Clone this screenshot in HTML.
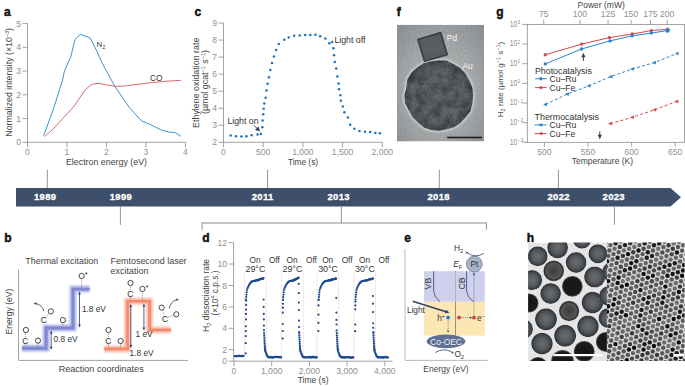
<!DOCTYPE html>
<html><head><meta charset="utf-8"><style>
html,body{margin:0;padding:0;background:#fff;}
svg{display:block;font-family:"Liberation Sans", sans-serif;}
</style></head><body>
<svg width="685" height="386" viewBox="0 0 685 386">
<rect width="685" height="386" fill="#fff"/>
<text x="4.00" y="15.50" font-size="12" fill="#111" text-anchor="start" font-weight="bold" stroke="#111" stroke-width="0.45">a</text>
<line x1="27.50" y1="23.40" x2="27.50" y2="142.30" stroke="#8c8c8c" stroke-width="0.8" />
<line x1="27.50" y1="142.30" x2="185.50" y2="142.30" stroke="#8c8c8c" stroke-width="0.8" />
<line x1="22.50" y1="142.30" x2="27.50" y2="142.30" stroke="#8c8c8c" stroke-width="0.8" />
<text x="21.00" y="145.40" font-size="8.6" fill="#909090" text-anchor="end" font-weight="normal" >0</text>
<line x1="22.50" y1="118.56" x2="27.50" y2="118.56" stroke="#8c8c8c" stroke-width="0.8" />
<text x="21.00" y="121.66" font-size="8.6" fill="#909090" text-anchor="end" font-weight="normal" >1</text>
<line x1="22.50" y1="94.82" x2="27.50" y2="94.82" stroke="#8c8c8c" stroke-width="0.8" />
<text x="21.00" y="97.92" font-size="8.6" fill="#909090" text-anchor="end" font-weight="normal" >2</text>
<line x1="22.50" y1="71.08" x2="27.50" y2="71.08" stroke="#8c8c8c" stroke-width="0.8" />
<text x="21.00" y="74.18" font-size="8.6" fill="#909090" text-anchor="end" font-weight="normal" >3</text>
<line x1="22.50" y1="47.34" x2="27.50" y2="47.34" stroke="#8c8c8c" stroke-width="0.8" />
<text x="21.00" y="50.44" font-size="8.6" fill="#909090" text-anchor="end" font-weight="normal" >4</text>
<line x1="22.50" y1="23.60" x2="27.50" y2="23.60" stroke="#8c8c8c" stroke-width="0.8" />
<text x="21.00" y="26.70" font-size="8.6" fill="#909090" text-anchor="end" font-weight="normal" >5</text>
<line x1="27.50" y1="142.30" x2="27.50" y2="147.30" stroke="#8c8c8c" stroke-width="0.8" />
<text x="27.50" y="155.20" font-size="8.6" fill="#909090" text-anchor="middle" font-weight="normal" >0</text>
<line x1="67.00" y1="142.30" x2="67.00" y2="147.30" stroke="#8c8c8c" stroke-width="0.8" />
<text x="67.00" y="155.20" font-size="8.6" fill="#909090" text-anchor="middle" font-weight="normal" >1</text>
<line x1="106.50" y1="142.30" x2="106.50" y2="147.30" stroke="#8c8c8c" stroke-width="0.8" />
<text x="106.50" y="155.20" font-size="8.6" fill="#909090" text-anchor="middle" font-weight="normal" >2</text>
<line x1="146.00" y1="142.30" x2="146.00" y2="147.30" stroke="#8c8c8c" stroke-width="0.8" />
<text x="146.00" y="155.20" font-size="8.6" fill="#909090" text-anchor="middle" font-weight="normal" >3</text>
<line x1="185.50" y1="142.30" x2="185.50" y2="147.30" stroke="#8c8c8c" stroke-width="0.8" />
<text x="185.50" y="155.20" font-size="8.6" fill="#909090" text-anchor="middle" font-weight="normal" >4</text>
<text x="106.50" y="165.30" font-size="8.85" fill="#444444" text-anchor="middle" font-weight="normal" >Electron energy (eV)</text>
<text transform="translate(11.8,82.3) rotate(-90)" font-size="8.8" fill="#444444" text-anchor="middle">Normalized intensity (×10<tspan dy="-3" font-size="5.5">−3</tspan><tspan dy="3">)</tspan></text>
<polyline points="44.5,136.7 52.7,129.4 62.7,118.6 73.6,106.8 85.4,89.5 91.7,84.4 98.0,83.2 105.0,84.7 116.0,86.4 124.8,86.0 138.0,84.2 151.3,82.7 164.5,81.4 181.0,80.3" fill="none" stroke="#d9585a" stroke-width="0.9" stroke-linejoin="round"/>
<polyline points="43.6,135.8 53.6,108.5 62.6,80.0 64.5,70.5 70.7,57.3 75.0,39.4 80.5,34.3 90.2,37.9 96.8,51.1 101.7,61.9 105.0,68.4 114.9,86.4 129.2,107.4 141.3,120.6 151.3,125.0 161.2,130.0 168.9,132.0 175.5,132.7 181.0,136.4" fill="none" stroke="#3795d2" stroke-width="1.0" stroke-linejoin="round"/>
<text x="96.60" y="46.80" font-size="7.8" fill="#333" text-anchor="start" font-weight="normal" >N<tspan dy="2.2" font-size="5.8">2</tspan></text>
<text x="150.00" y="81.30" font-size="8.3" fill="#333" text-anchor="start" font-weight="normal" >CO</text>
<text x="194.60" y="15.50" font-size="12" fill="#111" text-anchor="start" font-weight="bold" stroke="#111" stroke-width="0.45">c</text>
<line x1="223.50" y1="22.80" x2="223.50" y2="142.30" stroke="#8c8c8c" stroke-width="0.8" />
<line x1="223.50" y1="142.30" x2="382.30" y2="142.30" stroke="#8c8c8c" stroke-width="0.8" />
<line x1="218.50" y1="142.30" x2="223.50" y2="142.30" stroke="#8c8c8c" stroke-width="0.8" />
<text x="217.00" y="145.40" font-size="8.6" fill="#909090" text-anchor="end" font-weight="normal" >2</text>
<line x1="218.50" y1="125.26" x2="223.50" y2="125.26" stroke="#8c8c8c" stroke-width="0.8" />
<text x="217.00" y="128.36" font-size="8.6" fill="#909090" text-anchor="end" font-weight="normal" >3</text>
<line x1="218.50" y1="108.22" x2="223.50" y2="108.22" stroke="#8c8c8c" stroke-width="0.8" />
<text x="217.00" y="111.32" font-size="8.6" fill="#909090" text-anchor="end" font-weight="normal" >4</text>
<line x1="218.50" y1="91.18" x2="223.50" y2="91.18" stroke="#8c8c8c" stroke-width="0.8" />
<text x="217.00" y="94.28" font-size="8.6" fill="#909090" text-anchor="end" font-weight="normal" >5</text>
<line x1="218.50" y1="74.14" x2="223.50" y2="74.14" stroke="#8c8c8c" stroke-width="0.8" />
<text x="217.00" y="77.24" font-size="8.6" fill="#909090" text-anchor="end" font-weight="normal" >6</text>
<line x1="218.50" y1="57.10" x2="223.50" y2="57.10" stroke="#8c8c8c" stroke-width="0.8" />
<text x="217.00" y="60.20" font-size="8.6" fill="#909090" text-anchor="end" font-weight="normal" >7</text>
<line x1="218.50" y1="40.06" x2="223.50" y2="40.06" stroke="#8c8c8c" stroke-width="0.8" />
<text x="217.00" y="43.16" font-size="8.6" fill="#909090" text-anchor="end" font-weight="normal" >8</text>
<line x1="218.50" y1="23.02" x2="223.50" y2="23.02" stroke="#8c8c8c" stroke-width="0.8" />
<text x="217.00" y="26.12" font-size="8.6" fill="#909090" text-anchor="end" font-weight="normal" >9</text>
<line x1="223.50" y1="142.30" x2="223.50" y2="147.30" stroke="#8c8c8c" stroke-width="0.8" />
<text x="223.50" y="155.20" font-size="8.6" fill="#909090" text-anchor="middle" font-weight="normal" >0</text>
<line x1="263.20" y1="142.30" x2="263.20" y2="147.30" stroke="#8c8c8c" stroke-width="0.8" />
<text x="263.20" y="155.20" font-size="8.6" fill="#909090" text-anchor="middle" font-weight="normal" >500</text>
<line x1="302.90" y1="142.30" x2="302.90" y2="147.30" stroke="#8c8c8c" stroke-width="0.8" />
<text x="302.90" y="155.20" font-size="8.6" fill="#909090" text-anchor="middle" font-weight="normal" >1,000</text>
<line x1="342.60" y1="142.30" x2="342.60" y2="147.30" stroke="#8c8c8c" stroke-width="0.8" />
<text x="342.60" y="155.20" font-size="8.6" fill="#909090" text-anchor="middle" font-weight="normal" >1,500</text>
<line x1="382.30" y1="142.30" x2="382.30" y2="147.30" stroke="#8c8c8c" stroke-width="0.8" />
<text x="382.30" y="155.20" font-size="8.6" fill="#909090" text-anchor="middle" font-weight="normal" >2,000</text>
<text x="303.00" y="165.20" font-size="8.3" fill="#444444" text-anchor="middle" font-weight="normal" >Time (s)</text>
<text transform="translate(198.6,82.8) rotate(-90)" font-size="8.9" fill="#444444" text-anchor="middle">Ethylene oxidation rate</text>
<text transform="translate(208.4,82.0) rotate(-90)" font-size="8.9" fill="#444444" text-anchor="middle">(µmol gcat<tspan dy="-3" font-size="5.5">−1</tspan><tspan dy="3"> s</tspan><tspan dy="-3" font-size="5.5">−1</tspan><tspan dy="3">)</tspan></text>
<circle cx="230.7" cy="135.6" r="1.25" fill="#1b73bd"/>
<circle cx="236.0" cy="136.3" r="1.25" fill="#1b73bd"/>
<circle cx="241.4" cy="136.4" r="1.25" fill="#1b73bd"/>
<circle cx="246.4" cy="136.2" r="1.25" fill="#1b73bd"/>
<circle cx="251.6" cy="135.3" r="1.25" fill="#1b73bd"/>
<circle cx="257.5" cy="134.6" r="1.25" fill="#1b73bd"/>
<circle cx="260.9" cy="133.9" r="1.25" fill="#1b73bd"/>
<circle cx="262.3" cy="127.3" r="1.25" fill="#1b73bd"/>
<circle cx="262.6" cy="120.5" r="1.25" fill="#1b73bd"/>
<circle cx="263.2" cy="114.2" r="1.25" fill="#1b73bd"/>
<circle cx="263.7" cy="108.8" r="1.25" fill="#1b73bd"/>
<circle cx="264.3" cy="103.5" r="1.25" fill="#1b73bd"/>
<circle cx="265.6" cy="97.8" r="1.25" fill="#1b73bd"/>
<circle cx="266.5" cy="90.4" r="1.25" fill="#1b73bd"/>
<circle cx="267.6" cy="83.8" r="1.25" fill="#1b73bd"/>
<circle cx="268.9" cy="77.2" r="1.25" fill="#1b73bd"/>
<circle cx="270.4" cy="70.1" r="1.25" fill="#1b73bd"/>
<circle cx="272.0" cy="63.1" r="1.25" fill="#1b73bd"/>
<circle cx="273.9" cy="56.5" r="1.25" fill="#1b73bd"/>
<circle cx="276.1" cy="50.1" r="1.25" fill="#1b73bd"/>
<circle cx="278.8" cy="44.1" r="1.25" fill="#1b73bd"/>
<circle cx="284.3" cy="39.7" r="1.25" fill="#1b73bd"/>
<circle cx="288.7" cy="37.5" r="1.25" fill="#1b73bd"/>
<circle cx="294.2" cy="35.8" r="1.25" fill="#1b73bd"/>
<circle cx="299.7" cy="35.6" r="1.25" fill="#1b73bd"/>
<circle cx="305.2" cy="35.1" r="1.25" fill="#1b73bd"/>
<circle cx="310.3" cy="34.9" r="1.25" fill="#1b73bd"/>
<circle cx="315.4" cy="34.7" r="1.25" fill="#1b73bd"/>
<circle cx="320.2" cy="36.2" r="1.25" fill="#1b73bd"/>
<circle cx="325.3" cy="38.4" r="1.25" fill="#1b73bd"/>
<circle cx="329.3" cy="43.2" r="1.25" fill="#1b73bd"/>
<circle cx="332.1" cy="42.1" r="1.25" fill="#1b73bd"/>
<circle cx="333.4" cy="48.3" r="1.25" fill="#1b73bd"/>
<circle cx="334.0" cy="55.3" r="1.25" fill="#1b73bd"/>
<circle cx="334.8" cy="62.0" r="1.25" fill="#1b73bd"/>
<circle cx="336.2" cy="68.5" r="1.25" fill="#1b73bd"/>
<circle cx="337.4" cy="76.6" r="1.25" fill="#1b73bd"/>
<circle cx="338.6" cy="83.6" r="1.25" fill="#1b73bd"/>
<circle cx="339.0" cy="89.3" r="1.25" fill="#1b73bd"/>
<circle cx="340.4" cy="95.2" r="1.25" fill="#1b73bd"/>
<circle cx="340.9" cy="100.7" r="1.25" fill="#1b73bd"/>
<circle cx="342.8" cy="106.4" r="1.25" fill="#1b73bd"/>
<circle cx="344.3" cy="112.2" r="1.25" fill="#1b73bd"/>
<circle cx="347.9" cy="117.6" r="1.25" fill="#1b73bd"/>
<circle cx="350.2" cy="124.8" r="1.25" fill="#1b73bd"/>
<circle cx="354.4" cy="128.7" r="1.25" fill="#1b73bd"/>
<circle cx="359.5" cy="131.0" r="1.25" fill="#1b73bd"/>
<circle cx="365.0" cy="131.8" r="1.25" fill="#1b73bd"/>
<circle cx="370.1" cy="132.1" r="1.25" fill="#1b73bd"/>
<circle cx="375.4" cy="132.9" r="1.25" fill="#1b73bd"/>
<circle cx="379.9" cy="133.3" r="1.25" fill="#1b73bd"/>
<text x="227.40" y="123.90" font-size="8.75" fill="#333" text-anchor="start" font-weight="normal" >Light on</text>
<line x1="254.0" y1="125.4" x2="257.4" y2="128.8" stroke="#2d3f5e" stroke-width="1.0"/>
<polygon points="259.9,131.3 255.0,130.0 258.6,126.4" fill="#2d3f5e"/>
<text x="334.40" y="43.20" font-size="8.75" fill="#333" text-anchor="start" font-weight="normal" >Light off</text>
<text x="396.80" y="15.50" font-size="12" fill="#111" text-anchor="start" font-weight="bold" stroke="#111" stroke-width="0.45">f</text>
<defs>
<radialGradient id="fau" cx="0.5" cy="0.5" r="0.5"><stop offset="0" stop-color="#4c5054"/><stop offset="0.8" stop-color="#464a4e"/><stop offset="0.95" stop-color="#383c40"/><stop offset="1" stop-color="#303336"/></radialGradient>
<radialGradient id="fbg" cx="0.5" cy="0.55" r="0.7"><stop offset="0" stop-color="#b4b7b9"/><stop offset="0.55" stop-color="#a9acae"/><stop offset="1" stop-color="#8e9294"/></radialGradient>
<radialGradient id="fpd" cx="0.5" cy="0.5" r="0.6"><stop offset="0" stop-color="#5a5e61"/><stop offset="1" stop-color="#4e5255"/></radialGradient>
<filter id="fnoise" x="0" y="0" width="1" height="1" color-interpolation-filters="sRGB"><feTurbulence type="fractalNoise" baseFrequency="0.6" numOctaves="1" seed="3"/><feColorMatrix type="matrix" values="1 0 0 0 0  1 0 0 0 0  1 0 0 0 0  0 0 0 0 1"/></filter>
<filter id="fmottle" x="0" y="0" width="1" height="1" color-interpolation-filters="sRGB"><feTurbulence type="fractalNoise" baseFrequency="0.12" numOctaves="3" seed="8"/><feColorMatrix type="matrix" values="1.3 0 0 0 -0.25  1.3 0 0 0 -0.25  1.3 0 0 0 -0.25  0 0 0 0 1"/></filter>
<filter id="fblur1"><feGaussianBlur stdDeviation="1.2"/></filter>
<clipPath id="fclip"><rect x="397" y="24.8" width="87" height="116.6"/></clipPath>
<clipPath id="fauclip"><polygon points="473.1,95.2 472.4,103.1 470.5,110.9 465.7,117.3 460.3,122.9 453.9,127.3 446.5,129.2 439.0,130.7 431.3,130.0 423.9,127.6 418.1,122.4 412.5,117.1 408.8,110.3 405.1,103.2 404.5,95.2 406.4,87.5 407.4,79.4 411.6,72.6 417.5,67.3 424.1,63.1 431.5,61.2 439.0,60.6 446.6,60.6 453.5,64.0 460.0,67.9 465.4,73.4 469.1,80.2 472.3,87.3"/></clipPath>
</defs>
<g clip-path="url(#fclip)">
<rect x="397" y="24.8" width="87" height="116.6" fill="url(#fbg)"/>
<polygon points="473.1,95.2 472.4,103.1 470.5,110.9 465.7,117.3 460.3,122.9 453.9,127.3 446.5,129.2 439.0,130.7 431.3,130.0 423.9,127.6 418.1,122.4 412.5,117.1 408.8,110.3 405.1,103.2 404.5,95.2 406.4,87.5 407.4,79.4 411.6,72.6 417.5,67.3 424.1,63.1 431.5,61.2 439.0,60.6 446.6,60.6 453.5,64.0 460.0,67.9 465.4,73.4 469.1,80.2 472.3,87.3" fill="none" stroke="#d8dadb" stroke-width="3.2" filter="url(#fblur1)"/>
<polygon points="473.1,95.2 472.4,103.1 470.5,110.9 465.7,117.3 460.3,122.9 453.9,127.3 446.5,129.2 439.0,130.7 431.3,130.0 423.9,127.6 418.1,122.4 412.5,117.1 408.8,110.3 405.1,103.2 404.5,95.2 406.4,87.5 407.4,79.4 411.6,72.6 417.5,67.3 424.1,63.1 431.5,61.2 439.0,60.6 446.6,60.6 453.5,64.0 460.0,67.9 465.4,73.4 469.1,80.2 472.3,87.3" fill="url(#fau)"/>
<g clip-path="url(#fauclip)"><rect x="400" y="55" width="80" height="80" filter="url(#fmottle)" opacity="0.2"/></g>
<path d="M452,106 Q461,101 462,112 Q462,121 454,120" fill="none" stroke="#666" stroke-width="1.1" opacity="0.6"/><path d="M455,122 Q463,118 461,110" fill="none" stroke="#262626" stroke-width="1.2" opacity="0.6"/>
<polygon points="417.8,39.5 440.6,32.6 447.2,54.6 424.6,61.2" fill="url(#fpd)" stroke="#33363a" stroke-width="1.7" stroke-linejoin="round"/>
<rect x="397" y="24.8" width="87" height="116.6" filter="url(#fnoise)" opacity="0.12"/>
</g>
<text x="446.80" y="40.60" font-size="8.4" fill="#f4f4f4" text-anchor="start" font-weight="normal" >Pd</text>
<text x="462.50" y="68.60" font-size="8.4" fill="#f4f4f4" text-anchor="start" font-weight="normal" >Au</text>
<rect x="447.2" y="136.7" width="34.8" height="1.6" fill="#1e1e1e"/>
<text x="496.30" y="15.50" font-size="12" fill="#111" text-anchor="start" font-weight="bold" stroke="#111" stroke-width="0.45">g</text>
<rect x="527.3" y="24.4" width="157.30000000000007" height="117.9" fill="none" stroke="#8c8c8c" stroke-width="0.8"/>
<line x1="522.30" y1="24.40" x2="527.30" y2="24.40" stroke="#8c8c8c" stroke-width="0.8" />
<text x="517.30" y="26.80" font-size="8.6" fill="#909090" text-anchor="end" font-weight="normal" textLength="7.6" lengthAdjust="spacingAndGlyphs">10</text>
<text x="517.50" y="24.00" font-size="5.0" fill="#909090" text-anchor="start" font-weight="normal" >3</text>
<line x1="522.30" y1="44.05" x2="527.30" y2="44.05" stroke="#8c8c8c" stroke-width="0.8" />
<text x="517.30" y="46.45" font-size="8.6" fill="#909090" text-anchor="end" font-weight="normal" textLength="7.6" lengthAdjust="spacingAndGlyphs">10</text>
<text x="517.50" y="43.65" font-size="5.0" fill="#909090" text-anchor="start" font-weight="normal" >2</text>
<line x1="522.30" y1="63.70" x2="527.30" y2="63.70" stroke="#8c8c8c" stroke-width="0.8" />
<text x="517.30" y="66.10" font-size="8.6" fill="#909090" text-anchor="end" font-weight="normal" textLength="7.6" lengthAdjust="spacingAndGlyphs">10</text>
<text x="517.50" y="63.30" font-size="5.0" fill="#909090" text-anchor="start" font-weight="normal" >1</text>
<line x1="522.30" y1="83.35" x2="527.30" y2="83.35" stroke="#8c8c8c" stroke-width="0.8" />
<text x="517.30" y="85.75" font-size="8.6" fill="#909090" text-anchor="end" font-weight="normal" textLength="7.6" lengthAdjust="spacingAndGlyphs">10</text>
<text x="517.50" y="82.95" font-size="5.0" fill="#909090" text-anchor="start" font-weight="normal" >0</text>
<line x1="522.30" y1="103.00" x2="527.30" y2="103.00" stroke="#8c8c8c" stroke-width="0.8" />
<text x="517.30" y="105.40" font-size="8.6" fill="#909090" text-anchor="end" font-weight="normal" textLength="7.6" lengthAdjust="spacingAndGlyphs">10</text>
<text x="517.50" y="102.60" font-size="5.0" fill="#909090" text-anchor="start" font-weight="normal" >−1</text>
<line x1="522.30" y1="122.65" x2="527.30" y2="122.65" stroke="#8c8c8c" stroke-width="0.8" />
<text x="517.30" y="125.05" font-size="8.6" fill="#909090" text-anchor="end" font-weight="normal" textLength="7.6" lengthAdjust="spacingAndGlyphs">10</text>
<text x="517.50" y="122.25" font-size="5.0" fill="#909090" text-anchor="start" font-weight="normal" >−2</text>
<line x1="522.30" y1="142.30" x2="527.30" y2="142.30" stroke="#8c8c8c" stroke-width="0.8" />
<text x="517.30" y="144.70" font-size="8.6" fill="#909090" text-anchor="end" font-weight="normal" textLength="7.6" lengthAdjust="spacingAndGlyphs">10</text>
<text x="517.50" y="141.90" font-size="5.0" fill="#909090" text-anchor="start" font-weight="normal" >−3</text>
<line x1="544.40" y1="142.30" x2="544.40" y2="146.80" stroke="#8c8c8c" stroke-width="0.8" />
<text x="544.40" y="155.20" font-size="8.6" fill="#909090" text-anchor="middle" font-weight="normal" >500</text>
<line x1="588.00" y1="142.30" x2="588.00" y2="146.80" stroke="#8c8c8c" stroke-width="0.8" />
<text x="588.00" y="155.20" font-size="8.6" fill="#909090" text-anchor="middle" font-weight="normal" >550</text>
<line x1="631.60" y1="142.30" x2="631.60" y2="146.80" stroke="#8c8c8c" stroke-width="0.8" />
<text x="631.60" y="155.20" font-size="8.6" fill="#909090" text-anchor="middle" font-weight="normal" >600</text>
<line x1="675.20" y1="142.30" x2="675.20" y2="146.80" stroke="#8c8c8c" stroke-width="0.8" />
<text x="675.20" y="155.20" font-size="8.6" fill="#909090" text-anchor="middle" font-weight="normal" >650</text>
<line x1="543.70" y1="24.40" x2="543.70" y2="19.90" stroke="#8c8c8c" stroke-width="0.8" />
<text x="543.70" y="17.30" font-size="8.6" fill="#909090" text-anchor="middle" font-weight="normal" >75</text>
<line x1="579.93" y1="24.40" x2="579.93" y2="19.90" stroke="#8c8c8c" stroke-width="0.8" />
<text x="579.93" y="17.30" font-size="8.6" fill="#909090" text-anchor="middle" font-weight="normal" >100</text>
<line x1="608.04" y1="24.40" x2="608.04" y2="19.90" stroke="#8c8c8c" stroke-width="0.8" />
<text x="608.04" y="17.30" font-size="8.6" fill="#909090" text-anchor="middle" font-weight="normal" >125</text>
<line x1="631.00" y1="24.40" x2="631.00" y2="19.90" stroke="#8c8c8c" stroke-width="0.8" />
<text x="631.00" y="17.30" font-size="8.6" fill="#909090" text-anchor="middle" font-weight="normal" >150</text>
<line x1="650.41" y1="24.40" x2="650.41" y2="19.90" stroke="#8c8c8c" stroke-width="0.8" />
<text x="650.41" y="17.30" font-size="8.6" fill="#909090" text-anchor="middle" font-weight="normal" >175</text>
<line x1="667.23" y1="24.40" x2="667.23" y2="19.90" stroke="#8c8c8c" stroke-width="0.8" />
<text x="667.23" y="17.30" font-size="8.6" fill="#909090" text-anchor="middle" font-weight="normal" >200</text>
<text x="601.20" y="7.90" font-size="8.5" fill="#444444" text-anchor="middle" font-weight="normal" >Power (mW)</text>
<text x="602.40" y="163.50" font-size="8.5" fill="#444444" text-anchor="middle" font-weight="normal" >Temperature (K)</text>
<text transform="translate(503.0,79.5) rotate(-90)" font-size="8.0" fill="#444444" text-anchor="middle">H<tspan dy="2" font-size="5.5">2</tspan><tspan dy="-2"> rate (µmol g</tspan><tspan dy="-3" font-size="5.5">−1</tspan><tspan dy="3"> s</tspan><tspan dy="-3" font-size="5.5">−1</tspan><tspan dy="3">)</tspan></text>
<polyline points="545.3,54.8 581.6,44.1 609.4,37.6 632.2,34.0 651.3,30.6 667.8,29.2" fill="none" stroke="#d4474c" stroke-width="1"/>
<circle cx="545.3" cy="54.8" r="1.7" fill="#d4474c"/>
<circle cx="581.6" cy="44.1" r="1.7" fill="#d4474c"/>
<circle cx="609.4" cy="37.6" r="1.7" fill="#d4474c"/>
<circle cx="632.2" cy="34.0" r="1.7" fill="#d4474c"/>
<circle cx="651.3" cy="30.6" r="1.7" fill="#d4474c"/>
<circle cx="667.8" cy="29.2" r="1.7" fill="#d4474c"/>
<polyline points="545.3,63.9 581.6,49.0 610,40.9 632.2,35.8 651.3,33.1 667.6,30.5" fill="none" stroke="#2a84c9" stroke-width="1"/>
<circle cx="545.3" cy="63.9" r="1.7" fill="#2a84c9"/>
<circle cx="581.6" cy="49.0" r="1.7" fill="#2a84c9"/>
<circle cx="610" cy="40.9" r="1.7" fill="#2a84c9"/>
<circle cx="632.2" cy="35.8" r="1.7" fill="#2a84c9"/>
<circle cx="651.3" cy="33.1" r="1.7" fill="#2a84c9"/>
<circle cx="667.6" cy="30.5" r="2.2" fill="#2a84c9"/>
<polyline points="545.4,104.4 567.2,94.1 589,85.7 610.9,76.6 632.2,69 654.3,62.6 677,53.5" fill="none" stroke="#2a84c9" stroke-width="1" stroke-dasharray="3,2.2"/>
<polygon points="543.1999999999999,104.4 547.0,102.60000000000001 547.0,106.2" fill="#2a84c9"/>
<polygon points="565.0,94.1 568.8000000000001,92.3 568.8000000000001,95.89999999999999" fill="#2a84c9"/>
<polygon points="586.8,85.7 590.6,83.9 590.6,87.5" fill="#2a84c9"/>
<polygon points="608.6999999999999,76.6 612.5,74.8 612.5,78.39999999999999" fill="#2a84c9"/>
<polygon points="630.0,69 633.8000000000001,67.2 633.8000000000001,70.8" fill="#2a84c9"/>
<polygon points="652.0999999999999,62.6 655.9,60.800000000000004 655.9,64.4" fill="#2a84c9"/>
<polygon points="674.8,53.5 678.6,51.7 678.6,55.3" fill="#2a84c9"/>
<polyline points="610.3,123.6 632.4,117.3 654.6,109.8 676.7,101.4" fill="none" stroke="#d4474c" stroke-width="1" stroke-dasharray="3,2.2"/>
<polygon points="608.0999999999999,123.6 611.9,121.8 611.9,125.39999999999999" fill="#d4474c"/>
<polygon points="630.1999999999999,117.3 634.0,115.5 634.0,119.1" fill="#d4474c"/>
<polygon points="652.4,109.8 656.2,108.0 656.2,111.6" fill="#d4474c"/>
<polygon points="674.5,101.4 678.3000000000001,99.60000000000001 678.3000000000001,103.2" fill="#d4474c"/>
<line x1="583.4" y1="61" x2="583.4" y2="56" stroke="#2d3f5e" stroke-width="1"/><polygon points="583.4,52.8 581.3,57.2 585.5,57.2" fill="#2d3f5e"/>
<line x1="599.8" y1="131.5" x2="599.8" y2="136" stroke="#2d3f5e" stroke-width="1"/><polygon points="599.8,139.2 597.7,134.8 601.9,134.8" fill="#2d3f5e"/>
<text x="534.90" y="73.60" font-size="8.85" fill="#333" text-anchor="start" font-weight="normal" >Photocatalysis</text>
<line x1="535.10" y1="78.70" x2="546.70" y2="78.70" stroke="#2a84c9" stroke-width="1" />
<circle cx="540.9" cy="78.7" r="1.6" fill="#2a84c9"/>
<text x="549.60" y="81.80" font-size="8.6" fill="#333" text-anchor="start" font-weight="normal" >Cu–Ru</text>
<line x1="535.10" y1="87.60" x2="546.70" y2="87.60" stroke="#d4474c" stroke-width="1" />
<circle cx="540.9" cy="87.6" r="1.6" fill="#d4474c"/>
<text x="549.60" y="90.70" font-size="8.6" fill="#333" text-anchor="start" font-weight="normal" >Cu–Fe</text>
<text x="534.60" y="119.80" font-size="8.85" fill="#333" text-anchor="start" font-weight="normal" >Thermocatalysis</text>
<line x1="534.60" y1="124.90" x2="546.40" y2="124.90" stroke="#2a84c9" stroke-width="1" />
<polygon points="538.3,124.9 542.1,123.10000000000001 542.1,126.7" fill="#2a84c9"/>
<text x="549.60" y="128.00" font-size="8.6" fill="#333" text-anchor="start" font-weight="normal" >Cu–Ru</text>
<line x1="534.60" y1="133.60" x2="546.40" y2="133.60" stroke="#d4474c" stroke-width="1" />
<polygon points="538.3,133.6 542.1,131.79999999999998 542.1,135.4" fill="#d4474c"/>
<text x="549.60" y="136.70" font-size="8.6" fill="#333" text-anchor="start" font-weight="normal" >Cu–Fe</text>
<polygon points="16,188 670.5,188 681,197.3 670.5,206.5 16,206.5" fill="#3e4f6b"/>
<text x="45.15" y="200.30" font-size="9.5" fill="#ffffff" text-anchor="middle" font-weight="bold" letter-spacing="0.3" stroke="#fff" stroke-width="0.3">1989</text>
<text x="120.95" y="200.30" font-size="9.5" fill="#ffffff" text-anchor="middle" font-weight="bold" letter-spacing="0.3" stroke="#fff" stroke-width="0.3">1999</text>
<text x="262.65" y="200.30" font-size="9.5" fill="#ffffff" text-anchor="middle" font-weight="bold" letter-spacing="0.3" stroke="#fff" stroke-width="0.3">2011</text>
<text x="338.65" y="200.30" font-size="9.5" fill="#ffffff" text-anchor="middle" font-weight="bold" letter-spacing="0.3" stroke="#fff" stroke-width="0.3">2013</text>
<text x="438.65" y="200.30" font-size="9.5" fill="#ffffff" text-anchor="middle" font-weight="bold" letter-spacing="0.3" stroke="#fff" stroke-width="0.3">2018</text>
<text x="558.65" y="200.30" font-size="9.5" fill="#ffffff" text-anchor="middle" font-weight="bold" letter-spacing="0.3" stroke="#fff" stroke-width="0.3">2022</text>
<text x="613.75" y="200.30" font-size="9.5" fill="#ffffff" text-anchor="middle" font-weight="bold" letter-spacing="0.3" stroke="#fff" stroke-width="0.3">2023</text>
<line x1="47.30" y1="169.80" x2="47.30" y2="188.00" stroke="#7a7a7a" stroke-width="0.8" />
<line x1="267.60" y1="169.80" x2="267.60" y2="188.00" stroke="#7a7a7a" stroke-width="0.8" />
<line x1="439.30" y1="169.80" x2="439.30" y2="188.00" stroke="#7a7a7a" stroke-width="0.8" />
<line x1="558.40" y1="169.80" x2="558.40" y2="188.00" stroke="#7a7a7a" stroke-width="0.8" />
<line x1="120.40" y1="206.50" x2="120.40" y2="224.90" stroke="#7a7a7a" stroke-width="0.8" />
<line x1="614.40" y1="206.50" x2="614.40" y2="224.90" stroke="#7a7a7a" stroke-width="0.8" />
<line x1="341.40" y1="206.50" x2="341.40" y2="223.00" stroke="#7a7a7a" stroke-width="0.8" />
<line x1="202.10" y1="223.00" x2="486.40" y2="223.00" stroke="#7a7a7a" stroke-width="0.9" />
<line x1="202.10" y1="222.60" x2="202.10" y2="229.80" stroke="#7a7a7a" stroke-width="0.8" />
<line x1="486.40" y1="222.60" x2="486.40" y2="229.80" stroke="#7a7a7a" stroke-width="0.8" />
<text x="4.20" y="241.80" font-size="12" fill="#111" text-anchor="start" font-weight="bold" stroke="#111" stroke-width="0.45">b</text>
<line x1="18.50" y1="269.50" x2="18.50" y2="360.40" stroke="#8c8c8c" stroke-width="0.8" />
<line x1="18.50" y1="360.40" x2="188.00" y2="360.40" stroke="#8c8c8c" stroke-width="0.8" />
<text x="25.30" y="263.90" font-size="8.95" fill="#444444" text-anchor="start" font-weight="normal" >Thermal excitation</text>
<text x="110.60" y="264.00" font-size="8.95" fill="#444444" text-anchor="start" font-weight="normal" >Femtosecond laser</text>
<text x="110.60" y="273.60" font-size="8.95" fill="#444444" text-anchor="start" font-weight="normal" >excitation</text>
<text x="101.20" y="371.70" font-size="9.05" fill="#444444" text-anchor="middle" font-weight="normal" >Reaction coordinates</text>
<text transform="translate(12.4,311.5) rotate(-90)" font-size="8.6" fill="#444444" text-anchor="middle">Energy (eV)</text>
<defs><filter id="bblur" x="-20%" y="-20%" width="140%" height="140%"><feGaussianBlur stdDeviation="1.2"/></filter></defs>
<polyline points="22,348.3 46.1,348.3 46.1,328 73,328 73,289.1 89.6,289.1" fill="none" stroke="#aab0e6" stroke-width="6.5" filter="url(#bblur)" stroke-linejoin="miter"/>
<polyline points="22,348.3 46.1,348.3 46.1,328 73,328 73,289.1 89.6,289.1" fill="none" stroke="#8088d2" stroke-width="2.9" stroke-linejoin="miter"/>
<polyline points="104.3,348.9 127.5,348.9 127.5,301.3 149.6,301.3 149.6,330 170.9,330" fill="none" stroke="#f8b8a5" stroke-width="6.5" filter="url(#bblur)"/>
<polyline points="104.3,348.9 127.5,348.9 127.5,301.3 149.6,301.3 149.6,330 170.9,330" fill="none" stroke="#f18a6f" stroke-width="2.6"/>
<circle cx="25.9" cy="330.0" r="2.6" fill="#fff" stroke="#2a2a2a" stroke-width="0.85"/>
<text x="25.40" y="343.50" font-size="8.4" fill="#2a2a2a" text-anchor="middle" font-weight="normal" >C</text>
<line x1="25.60" y1="332.50" x2="25.60" y2="337.50" stroke="#444" stroke-width="0.6" stroke-dasharray="0.9,0.9"/>
<line x1="25.60" y1="343.30" x2="25.60" y2="347.00" stroke="#444" stroke-width="0.6" stroke-dasharray="0.9,0.9"/>
<circle cx="38.0" cy="340.6" r="2.6" fill="#fff" stroke="#2a2a2a" stroke-width="0.85"/>
<line x1="38.00" y1="343.20" x2="38.00" y2="347.00" stroke="#444" stroke-width="0.6" stroke-dasharray="0.9,0.9"/>
<circle cx="62.9" cy="320.1" r="2.6" fill="#fff" stroke="#2a2a2a" stroke-width="0.85"/>
<line x1="62.90" y1="322.60" x2="62.90" y2="326.50" stroke="#444" stroke-width="0.6" stroke-dasharray="0.9,0.9"/>
<circle cx="81.6" cy="275.9" r="2.6" fill="#fff" stroke="#2a2a2a" stroke-width="0.85"/>
<text x="84.80" y="277.30" font-size="7.5" fill="#2a2a2a" text-anchor="start" font-weight="normal" >*</text>
<line x1="81.60" y1="278.50" x2="81.60" y2="287.50" stroke="#444" stroke-width="0.6" stroke-dasharray="0.9,0.9"/>
<circle cx="50.8" cy="311.4" r="2.6" fill="#fff" stroke="#2a2a2a" stroke-width="0.85"/>
<text x="43.80" y="322.50" font-size="8.4" fill="#2a2a2a" text-anchor="middle" font-weight="normal" >C</text>
<line x1="45.50" y1="317.50" x2="48.80" y2="313.60" stroke="#444" stroke-width="0.6" stroke-dasharray="0.9,0.9"/>
<path d="M43.8,311.2 Q42.5,305 36.0,303.6" fill="none" stroke="#2f4365" stroke-width="0.8"/>
<polygon points="33.60,303.20 36.58,302.45 36.14,304.93" fill="#2f4365"/>
<line x1="79.50" y1="293.40" x2="79.50" y2="325.40" stroke="#2f4365" stroke-width="0.8" />
<polygon points="79.50,291.40 80.85,294.40 78.15,294.40" fill="#2f4365"/>
<polygon points="79.50,327.40 78.15,324.40 80.85,324.40" fill="#2f4365"/>
<text x="81.90" y="312.40" font-size="8.3" fill="#333" text-anchor="start" font-weight="normal" >1.8 eV</text>
<line x1="51.20" y1="332.50" x2="51.20" y2="347.80" stroke="#2f4365" stroke-width="0.8" />
<polygon points="51.20,330.50 52.55,333.50 49.85,333.50" fill="#2f4365"/>
<polygon points="51.20,349.80 49.85,346.80 52.55,346.80" fill="#2f4365"/>
<text x="53.60" y="342.30" font-size="8.3" fill="#333" text-anchor="start" font-weight="normal" >0.8 eV</text>
<circle cx="108.5" cy="330.0" r="2.6" fill="#fff" stroke="#2a2a2a" stroke-width="0.85"/>
<text x="108.20" y="344.20" font-size="8.4" fill="#2a2a2a" text-anchor="middle" font-weight="normal" >C</text>
<line x1="108.50" y1="332.50" x2="108.50" y2="337.50" stroke="#444" stroke-width="0.6" stroke-dasharray="0.9,0.9"/>
<line x1="108.50" y1="344.00" x2="108.50" y2="347.50" stroke="#444" stroke-width="0.6" stroke-dasharray="0.9,0.9"/>
<circle cx="120.6" cy="341.0" r="2.6" fill="#fff" stroke="#2a2a2a" stroke-width="0.85"/>
<line x1="120.60" y1="343.50" x2="120.60" y2="347.50" stroke="#444" stroke-width="0.6" stroke-dasharray="0.9,0.9"/>
<circle cx="130.5" cy="283.0" r="2.6" fill="#fff" stroke="#2a2a2a" stroke-width="0.85"/>
<text x="130.30" y="296.80" font-size="8.4" fill="#2a2a2a" text-anchor="middle" font-weight="normal" >C</text>
<line x1="130.50" y1="285.50" x2="130.50" y2="290.50" stroke="#444" stroke-width="0.6" stroke-dasharray="0.9,0.9"/>
<line x1="130.50" y1="296.50" x2="130.50" y2="299.50" stroke="#444" stroke-width="0.6" stroke-dasharray="0.9,0.9"/>
<circle cx="142.4" cy="288.9" r="2.6" fill="#fff" stroke="#2a2a2a" stroke-width="0.85"/>
<text x="145.60" y="290.30" font-size="7.5" fill="#2a2a2a" text-anchor="start" font-weight="normal" >*</text>
<line x1="142.40" y1="291.40" x2="142.40" y2="299.50" stroke="#444" stroke-width="0.6" stroke-dasharray="0.9,0.9"/>
<line x1="130.80" y1="306.00" x2="130.80" y2="346.00" stroke="#2f4365" stroke-width="0.8" />
<polygon points="130.80,304.00 132.15,307.00 129.45,307.00" fill="#2f4365"/>
<polygon points="130.80,348.00 129.45,345.00 132.15,345.00" fill="#2f4365"/>
<line x1="143.90" y1="305.60" x2="143.90" y2="328.50" stroke="#2f4365" stroke-width="0.8" />
<polygon points="143.90,303.60 145.25,306.60 142.55,306.60" fill="#2f4365"/>
<polygon points="143.90,330.50 142.55,327.50 145.25,327.50" fill="#2f4365"/>
<text x="135.50" y="337.40" font-size="8.3" fill="#333" text-anchor="start" font-weight="normal" >1 eV</text>
<text x="129.60" y="355.60" font-size="8.3" fill="#333" text-anchor="start" font-weight="normal" >1.8 eV</text>
<circle cx="161.6" cy="307.6" r="2.6" fill="#fff" stroke="#2a2a2a" stroke-width="0.85"/>
<text x="165.00" y="322.20" font-size="8.4" fill="#2a2a2a" text-anchor="middle" font-weight="normal" >C</text>
<circle cx="176.3" cy="314.3" r="2.6" fill="#fff" stroke="#2a2a2a" stroke-width="0.85"/>
<line x1="162.80" y1="310.00" x2="164.00" y2="315.20" stroke="#444" stroke-width="0.6" stroke-dasharray="0.9,0.9"/>
<line x1="168.00" y1="317.50" x2="173.80" y2="314.80" stroke="#444" stroke-width="0.6" stroke-dasharray="0.9,0.9"/>
<path d="M169.2,308.6 Q170.5,301.5 176.5,299.8" fill="none" stroke="#2f4365" stroke-width="0.8"/>
<polygon points="179.00,299.60 176.32,301.10 176.10,298.59" fill="#2f4365"/>
<text x="202.30" y="241.80" font-size="12" fill="#111" text-anchor="start" font-weight="bold" stroke="#111" stroke-width="0.45">d</text>
<line x1="233.60" y1="242.50" x2="233.60" y2="361.20" stroke="#8c8c8c" stroke-width="0.8" />
<line x1="233.60" y1="361.20" x2="392.50" y2="361.20" stroke="#8c8c8c" stroke-width="0.8" />
<line x1="228.60" y1="242.70" x2="233.60" y2="242.70" stroke="#8c8c8c" stroke-width="0.8" />
<text x="227.10" y="245.80" font-size="8.6" fill="#909090" text-anchor="end" font-weight="normal" >12</text>
<line x1="228.60" y1="264.00" x2="233.60" y2="264.00" stroke="#8c8c8c" stroke-width="0.8" />
<text x="227.10" y="267.10" font-size="8.6" fill="#909090" text-anchor="end" font-weight="normal" >10</text>
<line x1="228.60" y1="285.50" x2="233.60" y2="285.50" stroke="#8c8c8c" stroke-width="0.8" />
<text x="227.10" y="288.60" font-size="8.6" fill="#909090" text-anchor="end" font-weight="normal" >8</text>
<line x1="228.60" y1="307.00" x2="233.60" y2="307.00" stroke="#8c8c8c" stroke-width="0.8" />
<text x="227.10" y="310.10" font-size="8.6" fill="#909090" text-anchor="end" font-weight="normal" >6</text>
<line x1="228.60" y1="328.30" x2="233.60" y2="328.30" stroke="#8c8c8c" stroke-width="0.8" />
<text x="227.10" y="331.40" font-size="8.6" fill="#909090" text-anchor="end" font-weight="normal" >4</text>
<line x1="228.60" y1="349.70" x2="233.60" y2="349.70" stroke="#8c8c8c" stroke-width="0.8" />
<text x="227.10" y="352.80" font-size="8.6" fill="#909090" text-anchor="end" font-weight="normal" >2</text>
<line x1="228.60" y1="361.20" x2="233.60" y2="361.20" stroke="#8c8c8c" stroke-width="0.8" />
<text x="227.10" y="364.30" font-size="8.6" fill="#909090" text-anchor="end" font-weight="normal" >0</text>
<line x1="234.00" y1="361.20" x2="234.00" y2="366.20" stroke="#8c8c8c" stroke-width="0.8" />
<text x="234.00" y="373.60" font-size="8.6" fill="#909090" text-anchor="middle" font-weight="normal" >0</text>
<line x1="271.70" y1="361.20" x2="271.70" y2="366.20" stroke="#8c8c8c" stroke-width="0.8" />
<text x="271.70" y="373.60" font-size="8.6" fill="#909090" text-anchor="middle" font-weight="normal" >1,000</text>
<line x1="309.40" y1="361.20" x2="309.40" y2="366.20" stroke="#8c8c8c" stroke-width="0.8" />
<text x="309.40" y="373.60" font-size="8.6" fill="#909090" text-anchor="middle" font-weight="normal" >2,000</text>
<line x1="347.10" y1="361.20" x2="347.10" y2="366.20" stroke="#8c8c8c" stroke-width="0.8" />
<text x="347.10" y="373.60" font-size="8.6" fill="#909090" text-anchor="middle" font-weight="normal" >3,000</text>
<line x1="384.80" y1="361.20" x2="384.80" y2="366.20" stroke="#8c8c8c" stroke-width="0.8" />
<text x="384.80" y="373.60" font-size="8.6" fill="#909090" text-anchor="middle" font-weight="normal" >4,000</text>
<text x="313.10" y="383.00" font-size="8.5" fill="#444444" text-anchor="middle" font-weight="normal" >Time (s)</text>
<text transform="translate(208.6,295.4) rotate(-90)" font-size="8.5" fill="#444444" text-anchor="middle">H<tspan dy="2" font-size="5.5">2</tspan><tspan dy="-2"> dissociation rate</tspan></text>
<text transform="translate(218.0,293.0) rotate(-90)" font-size="8.3" fill="#444444" text-anchor="middle">(×10<tspan dy="-3" font-size="5.5">4</tspan><tspan dy="3"> c.p.s.)</tspan></text>
<line x1="244.40" y1="272.80" x2="244.40" y2="361.00" stroke="#f2a3a3" stroke-width="0.5" stroke-dasharray="1.5,1"/>
<line x1="266.30" y1="272.80" x2="266.30" y2="361.00" stroke="#f2a3a3" stroke-width="0.5" stroke-dasharray="1.5,1"/>
<line x1="281.40" y1="272.80" x2="281.40" y2="361.00" stroke="#f2a3a3" stroke-width="0.5" stroke-dasharray="1.5,1"/>
<line x1="303.30" y1="272.80" x2="303.30" y2="361.00" stroke="#f2a3a3" stroke-width="0.5" stroke-dasharray="1.5,1"/>
<line x1="317.10" y1="272.80" x2="317.10" y2="361.00" stroke="#f2a3a3" stroke-width="0.5" stroke-dasharray="1.5,1"/>
<line x1="338.60" y1="272.80" x2="338.60" y2="361.00" stroke="#f2a3a3" stroke-width="0.5" stroke-dasharray="1.5,1"/>
<line x1="353.90" y1="272.80" x2="353.90" y2="361.00" stroke="#f2a3a3" stroke-width="0.5" stroke-dasharray="1.5,1"/>
<line x1="375.50" y1="272.80" x2="375.50" y2="361.00" stroke="#f2a3a3" stroke-width="0.5" stroke-dasharray="1.5,1"/>
<text x="255.00" y="262.60" font-size="8.3" fill="#333" text-anchor="middle" font-weight="normal" >On</text>
<text x="255.40" y="272.40" font-size="8.9" fill="#333" text-anchor="middle" font-weight="normal" >29°C</text>
<text x="274.40" y="262.60" font-size="8.3" fill="#333" text-anchor="middle" font-weight="normal" >Off</text>
<text x="292.00" y="262.60" font-size="8.3" fill="#333" text-anchor="middle" font-weight="normal" >On</text>
<text x="292.40" y="272.40" font-size="8.9" fill="#333" text-anchor="middle" font-weight="normal" >29°C</text>
<text x="311.40" y="262.60" font-size="8.3" fill="#333" text-anchor="middle" font-weight="normal" >Off</text>
<text x="327.70" y="262.60" font-size="8.3" fill="#333" text-anchor="middle" font-weight="normal" >On</text>
<text x="328.10" y="272.40" font-size="8.9" fill="#333" text-anchor="middle" font-weight="normal" >30°C</text>
<text x="347.10" y="262.60" font-size="8.3" fill="#333" text-anchor="middle" font-weight="normal" >Off</text>
<text x="364.50" y="262.60" font-size="8.3" fill="#333" text-anchor="middle" font-weight="normal" >On</text>
<text x="364.90" y="272.40" font-size="8.9" fill="#333" text-anchor="middle" font-weight="normal" >30°C</text>
<text x="383.90" y="262.60" font-size="8.3" fill="#333" text-anchor="middle" font-weight="normal" >Off</text>
<circle cx="234.60" cy="356.07" r="1.1" fill="#1b4c8e"/>
<circle cx="235.30" cy="356.15" r="1.1" fill="#1b4c8e"/>
<circle cx="236.00" cy="356.18" r="1.1" fill="#1b4c8e"/>
<circle cx="236.70" cy="356.27" r="1.1" fill="#1b4c8e"/>
<circle cx="237.40" cy="356.14" r="1.1" fill="#1b4c8e"/>
<circle cx="238.10" cy="356.25" r="1.1" fill="#1b4c8e"/>
<circle cx="238.80" cy="355.72" r="1.1" fill="#1b4c8e"/>
<circle cx="239.50" cy="355.98" r="1.1" fill="#1b4c8e"/>
<circle cx="240.20" cy="356.27" r="1.1" fill="#1b4c8e"/>
<circle cx="240.90" cy="356.09" r="1.1" fill="#1b4c8e"/>
<circle cx="241.60" cy="356.24" r="1.1" fill="#1b4c8e"/>
<circle cx="242.30" cy="355.77" r="1.1" fill="#1b4c8e"/>
<circle cx="243.00" cy="355.98" r="1.1" fill="#1b4c8e"/>
<circle cx="243.70" cy="355.85" r="1.1" fill="#1b4c8e"/>
<circle cx="245.70" cy="353.30" r="1.1" fill="#1b4c8e"/>
<circle cx="245.75" cy="343.20" r="1.1" fill="#1b4c8e"/>
<circle cx="245.80" cy="336.20" r="1.1" fill="#1b4c8e"/>
<circle cx="245.85" cy="331.10" r="1.1" fill="#1b4c8e"/>
<circle cx="245.90" cy="326.30" r="1.1" fill="#1b4c8e"/>
<circle cx="245.95" cy="319.40" r="1.1" fill="#1b4c8e"/>
<circle cx="246.00" cy="313.90" r="1.1" fill="#1b4c8e"/>
<circle cx="246.05" cy="309.60" r="1.1" fill="#1b4c8e"/>
<circle cx="246.10" cy="304.90" r="1.1" fill="#1b4c8e"/>
<circle cx="246.15" cy="300.70" r="1.1" fill="#1b4c8e"/>
<circle cx="246.00" cy="299.50" r="1.1" fill="#1b4c8e"/>
<circle cx="246.22" cy="297.12" r="1.1" fill="#1b4c8e"/>
<circle cx="246.45" cy="294.75" r="1.1" fill="#1b4c8e"/>
<circle cx="246.68" cy="292.38" r="1.1" fill="#1b4c8e"/>
<circle cx="246.90" cy="290.00" r="1.1" fill="#1b4c8e"/>
<circle cx="247.57" cy="288.20" r="1.1" fill="#1b4c8e"/>
<circle cx="248.23" cy="286.63" r="1.1" fill="#1b4c8e"/>
<circle cx="248.90" cy="285.28" r="1.1" fill="#1b4c8e"/>
<circle cx="249.57" cy="284.14" r="1.1" fill="#1b4c8e"/>
<circle cx="250.23" cy="283.19" r="1.1" fill="#1b4c8e"/>
<circle cx="250.90" cy="282.43" r="1.1" fill="#1b4c8e"/>
<circle cx="251.57" cy="281.83" r="1.1" fill="#1b4c8e"/>
<circle cx="252.23" cy="281.39" r="1.1" fill="#1b4c8e"/>
<circle cx="252.90" cy="281.09" r="1.1" fill="#1b4c8e"/>
<circle cx="253.57" cy="280.90" r="1.1" fill="#1b4c8e"/>
<circle cx="254.23" cy="280.82" r="1.1" fill="#1b4c8e"/>
<circle cx="254.90" cy="280.80" r="1.1" fill="#1b4c8e"/>
<circle cx="255.40" cy="280.83" r="1.1" fill="#1b4c8e"/>
<circle cx="255.85" cy="280.71" r="1.1" fill="#1b4c8e"/>
<circle cx="256.30" cy="280.18" r="1.1" fill="#1b4c8e"/>
<circle cx="256.75" cy="280.19" r="1.1" fill="#1b4c8e"/>
<circle cx="257.20" cy="280.10" r="1.1" fill="#1b4c8e"/>
<circle cx="257.65" cy="280.40" r="1.1" fill="#1b4c8e"/>
<circle cx="258.10" cy="280.16" r="1.1" fill="#1b4c8e"/>
<circle cx="258.55" cy="279.60" r="1.1" fill="#1b4c8e"/>
<circle cx="259.00" cy="279.91" r="1.1" fill="#1b4c8e"/>
<circle cx="259.45" cy="279.31" r="1.1" fill="#1b4c8e"/>
<circle cx="259.90" cy="279.51" r="1.1" fill="#1b4c8e"/>
<circle cx="260.35" cy="279.02" r="1.1" fill="#1b4c8e"/>
<circle cx="260.80" cy="278.80" r="1.1" fill="#1b4c8e"/>
<circle cx="261.25" cy="279.27" r="1.1" fill="#1b4c8e"/>
<circle cx="261.70" cy="278.67" r="1.1" fill="#1b4c8e"/>
<circle cx="262.15" cy="278.54" r="1.1" fill="#1b4c8e"/>
<circle cx="262.60" cy="278.94" r="1.1" fill="#1b4c8e"/>
<circle cx="263.05" cy="278.72" r="1.1" fill="#1b4c8e"/>
<circle cx="263.50" cy="278.17" r="1.1" fill="#1b4c8e"/>
<circle cx="263.60" cy="299.50" r="1.1" fill="#1b4c8e"/>
<circle cx="263.68" cy="306.90" r="1.1" fill="#1b4c8e"/>
<circle cx="263.76" cy="313.90" r="1.1" fill="#1b4c8e"/>
<circle cx="263.84" cy="319.40" r="1.1" fill="#1b4c8e"/>
<circle cx="263.92" cy="325.60" r="1.1" fill="#1b4c8e"/>
<circle cx="264.00" cy="330.20" r="1.1" fill="#1b4c8e"/>
<circle cx="264.10" cy="333.00" r="1.1" fill="#1b4c8e"/>
<circle cx="264.21" cy="335.40" r="1.1" fill="#1b4c8e"/>
<circle cx="264.32" cy="337.68" r="1.1" fill="#1b4c8e"/>
<circle cx="264.43" cy="339.84" r="1.1" fill="#1b4c8e"/>
<circle cx="264.54" cy="341.86" r="1.1" fill="#1b4c8e"/>
<circle cx="264.65" cy="343.75" r="1.1" fill="#1b4c8e"/>
<circle cx="264.75" cy="345.48" r="1.1" fill="#1b4c8e"/>
<circle cx="264.86" cy="347.05" r="1.1" fill="#1b4c8e"/>
<circle cx="264.97" cy="348.44" r="1.1" fill="#1b4c8e"/>
<circle cx="265.08" cy="349.60" r="1.1" fill="#1b4c8e"/>
<circle cx="265.19" cy="350.51" r="1.1" fill="#1b4c8e"/>
<circle cx="265.30" cy="351.00" r="1.1" fill="#1b4c8e"/>
<circle cx="265.74" cy="352.21" r="1.1" fill="#1b4c8e"/>
<circle cx="266.18" cy="353.37" r="1.1" fill="#1b4c8e"/>
<circle cx="266.61" cy="354.44" r="1.1" fill="#1b4c8e"/>
<circle cx="267.05" cy="355.38" r="1.1" fill="#1b4c8e"/>
<circle cx="267.49" cy="356.16" r="1.1" fill="#1b4c8e"/>
<circle cx="267.93" cy="356.73" r="1.1" fill="#1b4c8e"/>
<circle cx="268.36" cy="357.08" r="1.1" fill="#1b4c8e"/>
<circle cx="268.80" cy="357.20" r="1.1" fill="#1b4c8e"/>
<circle cx="269.20" cy="357.52" r="1.1" fill="#1b4c8e"/>
<circle cx="269.80" cy="357.23" r="1.1" fill="#1b4c8e"/>
<circle cx="270.40" cy="357.32" r="1.1" fill="#1b4c8e"/>
<circle cx="271.00" cy="356.99" r="1.1" fill="#1b4c8e"/>
<circle cx="271.60" cy="357.51" r="1.1" fill="#1b4c8e"/>
<circle cx="272.20" cy="357.33" r="1.1" fill="#1b4c8e"/>
<circle cx="272.80" cy="357.53" r="1.1" fill="#1b4c8e"/>
<circle cx="273.40" cy="357.48" r="1.1" fill="#1b4c8e"/>
<circle cx="274.00" cy="357.06" r="1.1" fill="#1b4c8e"/>
<circle cx="274.60" cy="357.10" r="1.1" fill="#1b4c8e"/>
<circle cx="275.20" cy="356.97" r="1.1" fill="#1b4c8e"/>
<circle cx="275.80" cy="356.95" r="1.1" fill="#1b4c8e"/>
<circle cx="276.40" cy="356.90" r="1.1" fill="#1b4c8e"/>
<circle cx="277.00" cy="357.06" r="1.1" fill="#1b4c8e"/>
<circle cx="277.60" cy="357.27" r="1.1" fill="#1b4c8e"/>
<circle cx="278.20" cy="356.85" r="1.1" fill="#1b4c8e"/>
<circle cx="278.80" cy="357.32" r="1.1" fill="#1b4c8e"/>
<circle cx="279.40" cy="357.09" r="1.1" fill="#1b4c8e"/>
<circle cx="280.00" cy="357.07" r="1.1" fill="#1b4c8e"/>
<circle cx="280.60" cy="357.42" r="1.1" fill="#1b4c8e"/>
<circle cx="281.20" cy="357.19" r="1.1" fill="#1b4c8e"/>
<circle cx="282.70" cy="338.60" r="1.1" fill="#1b4c8e"/>
<circle cx="282.75" cy="331.00" r="1.1" fill="#1b4c8e"/>
<circle cx="282.80" cy="324.00" r="1.1" fill="#1b4c8e"/>
<circle cx="282.85" cy="312.70" r="1.1" fill="#1b4c8e"/>
<circle cx="282.90" cy="307.70" r="1.1" fill="#1b4c8e"/>
<circle cx="282.95" cy="303.80" r="1.1" fill="#1b4c8e"/>
<circle cx="283.00" cy="300.00" r="1.1" fill="#1b4c8e"/>
<circle cx="283.00" cy="299.50" r="1.1" fill="#1b4c8e"/>
<circle cx="283.23" cy="297.12" r="1.1" fill="#1b4c8e"/>
<circle cx="283.45" cy="294.75" r="1.1" fill="#1b4c8e"/>
<circle cx="283.68" cy="292.38" r="1.1" fill="#1b4c8e"/>
<circle cx="283.90" cy="290.00" r="1.1" fill="#1b4c8e"/>
<circle cx="284.57" cy="288.20" r="1.1" fill="#1b4c8e"/>
<circle cx="285.23" cy="286.63" r="1.1" fill="#1b4c8e"/>
<circle cx="285.90" cy="285.28" r="1.1" fill="#1b4c8e"/>
<circle cx="286.57" cy="284.14" r="1.1" fill="#1b4c8e"/>
<circle cx="287.23" cy="283.19" r="1.1" fill="#1b4c8e"/>
<circle cx="287.90" cy="282.43" r="1.1" fill="#1b4c8e"/>
<circle cx="288.57" cy="281.83" r="1.1" fill="#1b4c8e"/>
<circle cx="289.23" cy="281.39" r="1.1" fill="#1b4c8e"/>
<circle cx="289.90" cy="281.09" r="1.1" fill="#1b4c8e"/>
<circle cx="290.57" cy="280.90" r="1.1" fill="#1b4c8e"/>
<circle cx="291.23" cy="280.82" r="1.1" fill="#1b4c8e"/>
<circle cx="291.90" cy="280.80" r="1.1" fill="#1b4c8e"/>
<circle cx="292.40" cy="280.67" r="1.1" fill="#1b4c8e"/>
<circle cx="292.85" cy="280.58" r="1.1" fill="#1b4c8e"/>
<circle cx="293.30" cy="280.53" r="1.1" fill="#1b4c8e"/>
<circle cx="293.75" cy="279.88" r="1.1" fill="#1b4c8e"/>
<circle cx="294.20" cy="280.31" r="1.1" fill="#1b4c8e"/>
<circle cx="294.65" cy="279.44" r="1.1" fill="#1b4c8e"/>
<circle cx="295.10" cy="279.75" r="1.1" fill="#1b4c8e"/>
<circle cx="295.55" cy="279.61" r="1.1" fill="#1b4c8e"/>
<circle cx="296.00" cy="278.83" r="1.1" fill="#1b4c8e"/>
<circle cx="296.45" cy="279.16" r="1.1" fill="#1b4c8e"/>
<circle cx="296.90" cy="278.66" r="1.1" fill="#1b4c8e"/>
<circle cx="297.35" cy="278.60" r="1.1" fill="#1b4c8e"/>
<circle cx="297.80" cy="278.00" r="1.1" fill="#1b4c8e"/>
<circle cx="298.25" cy="277.82" r="1.1" fill="#1b4c8e"/>
<circle cx="298.70" cy="277.71" r="1.1" fill="#1b4c8e"/>
<circle cx="298.70" cy="283.90" r="1.1" fill="#1b4c8e"/>
<circle cx="298.78" cy="293.20" r="1.1" fill="#1b4c8e"/>
<circle cx="298.86" cy="302.60" r="1.1" fill="#1b4c8e"/>
<circle cx="298.94" cy="310.00" r="1.1" fill="#1b4c8e"/>
<circle cx="299.02" cy="320.60" r="1.1" fill="#1b4c8e"/>
<circle cx="299.10" cy="327.00" r="1.1" fill="#1b4c8e"/>
<circle cx="299.18" cy="332.00" r="1.1" fill="#1b4c8e"/>
<circle cx="299.20" cy="333.00" r="1.1" fill="#1b4c8e"/>
<circle cx="299.31" cy="335.40" r="1.1" fill="#1b4c8e"/>
<circle cx="299.42" cy="337.68" r="1.1" fill="#1b4c8e"/>
<circle cx="299.53" cy="339.84" r="1.1" fill="#1b4c8e"/>
<circle cx="299.64" cy="341.86" r="1.1" fill="#1b4c8e"/>
<circle cx="299.75" cy="343.75" r="1.1" fill="#1b4c8e"/>
<circle cx="299.85" cy="345.48" r="1.1" fill="#1b4c8e"/>
<circle cx="299.96" cy="347.05" r="1.1" fill="#1b4c8e"/>
<circle cx="300.07" cy="348.44" r="1.1" fill="#1b4c8e"/>
<circle cx="300.18" cy="349.60" r="1.1" fill="#1b4c8e"/>
<circle cx="300.29" cy="350.51" r="1.1" fill="#1b4c8e"/>
<circle cx="300.40" cy="351.00" r="1.1" fill="#1b4c8e"/>
<circle cx="300.84" cy="352.21" r="1.1" fill="#1b4c8e"/>
<circle cx="301.27" cy="353.37" r="1.1" fill="#1b4c8e"/>
<circle cx="301.71" cy="354.44" r="1.1" fill="#1b4c8e"/>
<circle cx="302.15" cy="355.38" r="1.1" fill="#1b4c8e"/>
<circle cx="302.59" cy="356.16" r="1.1" fill="#1b4c8e"/>
<circle cx="303.02" cy="356.73" r="1.1" fill="#1b4c8e"/>
<circle cx="303.46" cy="357.08" r="1.1" fill="#1b4c8e"/>
<circle cx="303.90" cy="357.20" r="1.1" fill="#1b4c8e"/>
<circle cx="304.30" cy="357.52" r="1.1" fill="#1b4c8e"/>
<circle cx="304.90" cy="356.99" r="1.1" fill="#1b4c8e"/>
<circle cx="305.50" cy="357.38" r="1.1" fill="#1b4c8e"/>
<circle cx="306.10" cy="357.50" r="1.1" fill="#1b4c8e"/>
<circle cx="306.70" cy="357.51" r="1.1" fill="#1b4c8e"/>
<circle cx="307.30" cy="357.09" r="1.1" fill="#1b4c8e"/>
<circle cx="307.90" cy="357.10" r="1.1" fill="#1b4c8e"/>
<circle cx="308.50" cy="357.22" r="1.1" fill="#1b4c8e"/>
<circle cx="309.10" cy="357.39" r="1.1" fill="#1b4c8e"/>
<circle cx="309.70" cy="356.93" r="1.1" fill="#1b4c8e"/>
<circle cx="310.30" cy="357.37" r="1.1" fill="#1b4c8e"/>
<circle cx="310.90" cy="357.41" r="1.1" fill="#1b4c8e"/>
<circle cx="311.50" cy="357.45" r="1.1" fill="#1b4c8e"/>
<circle cx="312.10" cy="356.88" r="1.1" fill="#1b4c8e"/>
<circle cx="312.70" cy="357.51" r="1.1" fill="#1b4c8e"/>
<circle cx="313.30" cy="356.91" r="1.1" fill="#1b4c8e"/>
<circle cx="313.90" cy="357.09" r="1.1" fill="#1b4c8e"/>
<circle cx="314.50" cy="357.28" r="1.1" fill="#1b4c8e"/>
<circle cx="315.10" cy="357.49" r="1.1" fill="#1b4c8e"/>
<circle cx="315.70" cy="357.09" r="1.1" fill="#1b4c8e"/>
<circle cx="316.30" cy="357.50" r="1.1" fill="#1b4c8e"/>
<circle cx="316.90" cy="357.23" r="1.1" fill="#1b4c8e"/>
<circle cx="318.40" cy="331.00" r="1.1" fill="#1b4c8e"/>
<circle cx="318.45" cy="322.90" r="1.1" fill="#1b4c8e"/>
<circle cx="318.50" cy="314.70" r="1.1" fill="#1b4c8e"/>
<circle cx="318.55" cy="305.40" r="1.1" fill="#1b4c8e"/>
<circle cx="318.60" cy="300.00" r="1.1" fill="#1b4c8e"/>
<circle cx="318.70" cy="299.50" r="1.1" fill="#1b4c8e"/>
<circle cx="318.93" cy="297.12" r="1.1" fill="#1b4c8e"/>
<circle cx="319.15" cy="294.75" r="1.1" fill="#1b4c8e"/>
<circle cx="319.38" cy="292.38" r="1.1" fill="#1b4c8e"/>
<circle cx="319.60" cy="290.00" r="1.1" fill="#1b4c8e"/>
<circle cx="320.27" cy="288.20" r="1.1" fill="#1b4c8e"/>
<circle cx="320.93" cy="286.63" r="1.1" fill="#1b4c8e"/>
<circle cx="321.60" cy="285.28" r="1.1" fill="#1b4c8e"/>
<circle cx="322.27" cy="284.14" r="1.1" fill="#1b4c8e"/>
<circle cx="322.93" cy="283.19" r="1.1" fill="#1b4c8e"/>
<circle cx="323.60" cy="282.43" r="1.1" fill="#1b4c8e"/>
<circle cx="324.27" cy="281.83" r="1.1" fill="#1b4c8e"/>
<circle cx="324.93" cy="281.39" r="1.1" fill="#1b4c8e"/>
<circle cx="325.60" cy="281.09" r="1.1" fill="#1b4c8e"/>
<circle cx="326.27" cy="280.90" r="1.1" fill="#1b4c8e"/>
<circle cx="326.93" cy="280.82" r="1.1" fill="#1b4c8e"/>
<circle cx="327.60" cy="280.80" r="1.1" fill="#1b4c8e"/>
<circle cx="328.10" cy="280.67" r="1.1" fill="#1b4c8e"/>
<circle cx="328.55" cy="280.54" r="1.1" fill="#1b4c8e"/>
<circle cx="329.00" cy="280.32" r="1.1" fill="#1b4c8e"/>
<circle cx="329.45" cy="280.12" r="1.1" fill="#1b4c8e"/>
<circle cx="329.90" cy="280.05" r="1.1" fill="#1b4c8e"/>
<circle cx="330.35" cy="280.30" r="1.1" fill="#1b4c8e"/>
<circle cx="330.80" cy="280.39" r="1.1" fill="#1b4c8e"/>
<circle cx="331.25" cy="279.67" r="1.1" fill="#1b4c8e"/>
<circle cx="331.70" cy="279.47" r="1.1" fill="#1b4c8e"/>
<circle cx="332.15" cy="280.00" r="1.1" fill="#1b4c8e"/>
<circle cx="332.60" cy="279.55" r="1.1" fill="#1b4c8e"/>
<circle cx="333.05" cy="279.34" r="1.1" fill="#1b4c8e"/>
<circle cx="333.50" cy="279.09" r="1.1" fill="#1b4c8e"/>
<circle cx="333.95" cy="279.21" r="1.1" fill="#1b4c8e"/>
<circle cx="334.40" cy="279.25" r="1.1" fill="#1b4c8e"/>
<circle cx="334.85" cy="278.86" r="1.1" fill="#1b4c8e"/>
<circle cx="335.30" cy="278.71" r="1.1" fill="#1b4c8e"/>
<circle cx="335.75" cy="278.33" r="1.1" fill="#1b4c8e"/>
<circle cx="336.20" cy="278.80" r="1.1" fill="#1b4c8e"/>
<circle cx="336.30" cy="297.90" r="1.1" fill="#1b4c8e"/>
<circle cx="336.38" cy="312.60" r="1.1" fill="#1b4c8e"/>
<circle cx="336.46" cy="319.90" r="1.1" fill="#1b4c8e"/>
<circle cx="336.54" cy="324.50" r="1.1" fill="#1b4c8e"/>
<circle cx="336.62" cy="330.40" r="1.1" fill="#1b4c8e"/>
<circle cx="336.80" cy="333.00" r="1.1" fill="#1b4c8e"/>
<circle cx="336.91" cy="335.40" r="1.1" fill="#1b4c8e"/>
<circle cx="337.02" cy="337.68" r="1.1" fill="#1b4c8e"/>
<circle cx="337.13" cy="339.84" r="1.1" fill="#1b4c8e"/>
<circle cx="337.24" cy="341.86" r="1.1" fill="#1b4c8e"/>
<circle cx="337.35" cy="343.75" r="1.1" fill="#1b4c8e"/>
<circle cx="337.45" cy="345.48" r="1.1" fill="#1b4c8e"/>
<circle cx="337.56" cy="347.05" r="1.1" fill="#1b4c8e"/>
<circle cx="337.67" cy="348.44" r="1.1" fill="#1b4c8e"/>
<circle cx="337.78" cy="349.60" r="1.1" fill="#1b4c8e"/>
<circle cx="337.89" cy="350.51" r="1.1" fill="#1b4c8e"/>
<circle cx="338.00" cy="351.00" r="1.1" fill="#1b4c8e"/>
<circle cx="338.44" cy="352.23" r="1.1" fill="#1b4c8e"/>
<circle cx="338.88" cy="353.41" r="1.1" fill="#1b4c8e"/>
<circle cx="339.31" cy="354.50" r="1.1" fill="#1b4c8e"/>
<circle cx="339.75" cy="355.45" r="1.1" fill="#1b4c8e"/>
<circle cx="340.19" cy="356.24" r="1.1" fill="#1b4c8e"/>
<circle cx="340.62" cy="356.82" r="1.1" fill="#1b4c8e"/>
<circle cx="341.06" cy="357.18" r="1.1" fill="#1b4c8e"/>
<circle cx="341.50" cy="357.30" r="1.1" fill="#1b4c8e"/>
<circle cx="341.90" cy="356.97" r="1.1" fill="#1b4c8e"/>
<circle cx="342.50" cy="357.30" r="1.1" fill="#1b4c8e"/>
<circle cx="343.10" cy="357.54" r="1.1" fill="#1b4c8e"/>
<circle cx="343.70" cy="357.04" r="1.1" fill="#1b4c8e"/>
<circle cx="344.30" cy="357.46" r="1.1" fill="#1b4c8e"/>
<circle cx="344.90" cy="357.61" r="1.1" fill="#1b4c8e"/>
<circle cx="345.50" cy="357.39" r="1.1" fill="#1b4c8e"/>
<circle cx="346.10" cy="357.50" r="1.1" fill="#1b4c8e"/>
<circle cx="346.70" cy="357.02" r="1.1" fill="#1b4c8e"/>
<circle cx="347.30" cy="357.25" r="1.1" fill="#1b4c8e"/>
<circle cx="347.90" cy="357.05" r="1.1" fill="#1b4c8e"/>
<circle cx="348.50" cy="357.54" r="1.1" fill="#1b4c8e"/>
<circle cx="349.10" cy="357.16" r="1.1" fill="#1b4c8e"/>
<circle cx="349.70" cy="357.27" r="1.1" fill="#1b4c8e"/>
<circle cx="350.30" cy="357.65" r="1.1" fill="#1b4c8e"/>
<circle cx="350.90" cy="357.55" r="1.1" fill="#1b4c8e"/>
<circle cx="351.50" cy="357.63" r="1.1" fill="#1b4c8e"/>
<circle cx="352.10" cy="357.27" r="1.1" fill="#1b4c8e"/>
<circle cx="352.70" cy="357.29" r="1.1" fill="#1b4c8e"/>
<circle cx="353.30" cy="357.46" r="1.1" fill="#1b4c8e"/>
<circle cx="355.20" cy="331.20" r="1.1" fill="#1b4c8e"/>
<circle cx="355.25" cy="324.50" r="1.1" fill="#1b4c8e"/>
<circle cx="355.30" cy="309.30" r="1.1" fill="#1b4c8e"/>
<circle cx="355.35" cy="305.40" r="1.1" fill="#1b4c8e"/>
<circle cx="355.40" cy="301.70" r="1.1" fill="#1b4c8e"/>
<circle cx="355.50" cy="299.50" r="1.1" fill="#1b4c8e"/>
<circle cx="355.73" cy="297.12" r="1.1" fill="#1b4c8e"/>
<circle cx="355.95" cy="294.75" r="1.1" fill="#1b4c8e"/>
<circle cx="356.18" cy="292.38" r="1.1" fill="#1b4c8e"/>
<circle cx="356.40" cy="290.00" r="1.1" fill="#1b4c8e"/>
<circle cx="357.07" cy="288.20" r="1.1" fill="#1b4c8e"/>
<circle cx="357.73" cy="286.63" r="1.1" fill="#1b4c8e"/>
<circle cx="358.40" cy="285.28" r="1.1" fill="#1b4c8e"/>
<circle cx="359.07" cy="284.14" r="1.1" fill="#1b4c8e"/>
<circle cx="359.73" cy="283.19" r="1.1" fill="#1b4c8e"/>
<circle cx="360.40" cy="282.43" r="1.1" fill="#1b4c8e"/>
<circle cx="361.07" cy="281.83" r="1.1" fill="#1b4c8e"/>
<circle cx="361.73" cy="281.39" r="1.1" fill="#1b4c8e"/>
<circle cx="362.40" cy="281.09" r="1.1" fill="#1b4c8e"/>
<circle cx="363.07" cy="280.90" r="1.1" fill="#1b4c8e"/>
<circle cx="363.73" cy="280.82" r="1.1" fill="#1b4c8e"/>
<circle cx="364.40" cy="280.80" r="1.1" fill="#1b4c8e"/>
<circle cx="364.90" cy="280.79" r="1.1" fill="#1b4c8e"/>
<circle cx="365.35" cy="280.52" r="1.1" fill="#1b4c8e"/>
<circle cx="365.80" cy="280.47" r="1.1" fill="#1b4c8e"/>
<circle cx="366.25" cy="280.16" r="1.1" fill="#1b4c8e"/>
<circle cx="366.70" cy="280.19" r="1.1" fill="#1b4c8e"/>
<circle cx="367.15" cy="280.49" r="1.1" fill="#1b4c8e"/>
<circle cx="367.60" cy="280.34" r="1.1" fill="#1b4c8e"/>
<circle cx="368.05" cy="279.98" r="1.1" fill="#1b4c8e"/>
<circle cx="368.50" cy="279.76" r="1.1" fill="#1b4c8e"/>
<circle cx="368.95" cy="279.52" r="1.1" fill="#1b4c8e"/>
<circle cx="369.40" cy="279.21" r="1.1" fill="#1b4c8e"/>
<circle cx="369.85" cy="279.21" r="1.1" fill="#1b4c8e"/>
<circle cx="370.30" cy="279.44" r="1.1" fill="#1b4c8e"/>
<circle cx="370.75" cy="279.37" r="1.1" fill="#1b4c8e"/>
<circle cx="371.20" cy="278.88" r="1.1" fill="#1b4c8e"/>
<circle cx="371.65" cy="279.05" r="1.1" fill="#1b4c8e"/>
<circle cx="372.10" cy="278.91" r="1.1" fill="#1b4c8e"/>
<circle cx="372.55" cy="278.72" r="1.1" fill="#1b4c8e"/>
<circle cx="373.00" cy="278.57" r="1.1" fill="#1b4c8e"/>
<circle cx="372.90" cy="296.00" r="1.1" fill="#1b4c8e"/>
<circle cx="372.98" cy="303.70" r="1.1" fill="#1b4c8e"/>
<circle cx="373.06" cy="312.10" r="1.1" fill="#1b4c8e"/>
<circle cx="373.14" cy="323.30" r="1.1" fill="#1b4c8e"/>
<circle cx="373.22" cy="327.80" r="1.1" fill="#1b4c8e"/>
<circle cx="373.30" cy="332.00" r="1.1" fill="#1b4c8e"/>
<circle cx="373.40" cy="333.00" r="1.1" fill="#1b4c8e"/>
<circle cx="373.51" cy="335.40" r="1.1" fill="#1b4c8e"/>
<circle cx="373.62" cy="337.68" r="1.1" fill="#1b4c8e"/>
<circle cx="373.73" cy="339.84" r="1.1" fill="#1b4c8e"/>
<circle cx="373.84" cy="341.86" r="1.1" fill="#1b4c8e"/>
<circle cx="373.95" cy="343.75" r="1.1" fill="#1b4c8e"/>
<circle cx="374.05" cy="345.48" r="1.1" fill="#1b4c8e"/>
<circle cx="374.16" cy="347.05" r="1.1" fill="#1b4c8e"/>
<circle cx="374.27" cy="348.44" r="1.1" fill="#1b4c8e"/>
<circle cx="374.38" cy="349.60" r="1.1" fill="#1b4c8e"/>
<circle cx="374.49" cy="350.51" r="1.1" fill="#1b4c8e"/>
<circle cx="374.60" cy="351.00" r="1.1" fill="#1b4c8e"/>
<circle cx="375.04" cy="352.23" r="1.1" fill="#1b4c8e"/>
<circle cx="375.47" cy="353.41" r="1.1" fill="#1b4c8e"/>
<circle cx="375.91" cy="354.50" r="1.1" fill="#1b4c8e"/>
<circle cx="376.35" cy="355.45" r="1.1" fill="#1b4c8e"/>
<circle cx="376.79" cy="356.24" r="1.1" fill="#1b4c8e"/>
<circle cx="377.22" cy="356.82" r="1.1" fill="#1b4c8e"/>
<circle cx="377.66" cy="357.18" r="1.1" fill="#1b4c8e"/>
<circle cx="378.10" cy="357.30" r="1.1" fill="#1b4c8e"/>
<circle cx="378.50" cy="357.48" r="1.1" fill="#1b4c8e"/>
<circle cx="379.10" cy="357.20" r="1.1" fill="#1b4c8e"/>
<circle cx="379.70" cy="357.44" r="1.1" fill="#1b4c8e"/>
<circle cx="380.30" cy="357.15" r="1.1" fill="#1b4c8e"/>
<circle cx="380.90" cy="357.29" r="1.1" fill="#1b4c8e"/>
<circle cx="381.50" cy="357.49" r="1.1" fill="#1b4c8e"/>
<circle cx="382.10" cy="357.43" r="1.1" fill="#1b4c8e"/>
<circle cx="382.70" cy="357.16" r="1.1" fill="#1b4c8e"/>
<circle cx="383.30" cy="357.61" r="1.1" fill="#1b4c8e"/>
<circle cx="383.90" cy="357.40" r="1.1" fill="#1b4c8e"/>
<circle cx="384.50" cy="357.36" r="1.1" fill="#1b4c8e"/>
<circle cx="385.10" cy="356.96" r="1.1" fill="#1b4c8e"/>
<circle cx="385.70" cy="357.33" r="1.1" fill="#1b4c8e"/>
<circle cx="386.30" cy="357.13" r="1.1" fill="#1b4c8e"/>
<circle cx="386.90" cy="357.42" r="1.1" fill="#1b4c8e"/>
<circle cx="387.50" cy="357.27" r="1.1" fill="#1b4c8e"/>
<circle cx="388.10" cy="357.52" r="1.1" fill="#1b4c8e"/>
<text x="404.20" y="242.00" font-size="12" fill="#111" text-anchor="start" font-weight="bold" stroke="#111" stroke-width="0.45">e</text>
<line x1="405.00" y1="249.10" x2="405.00" y2="360.40" stroke="#a8a8a8" stroke-width="0.8" />
<line x1="405.00" y1="360.40" x2="487.60" y2="360.40" stroke="#a8a8a8" stroke-width="0.8" />
<rect x="424.0" y="271.2" width="60.8" height="30.6" fill="#cfd0ec"/>
<rect x="424.0" y="301.8" width="60.8" height="33.8" fill="#fbe6b4"/>
<path d="M433.7,271.2 L433.7,291.5 Q434.3,297 439.9,301.8" fill="none" stroke="#3e5276" stroke-width="0.9"/>
<path d="M466.6,271.2 L466.6,291.5 Q467.2,297 473.5,301.8" fill="none" stroke="#3e5276" stroke-width="0.9"/>
<line x1="455.50" y1="271.20" x2="455.50" y2="301.80" stroke="#555" stroke-width="0.6" stroke-dasharray="1,1.3"/>
<line x1="455.50" y1="301.80" x2="455.50" y2="335.60" stroke="#555" stroke-width="0.6" />
<text transform="translate(431.4,283.5) rotate(-90)" font-size="8.8" fill="#333" text-anchor="middle">VB</text>
<text transform="translate(464.6,283.5) rotate(-90)" font-size="8.8" fill="#333" text-anchor="middle">CB</text>
<text x="453.3" y="266.7" font-size="8.3" fill="#333" font-style="italic">E<tspan dy="2" font-size="5.8" font-style="normal">F</tspan></text>
<line x1="474.00" y1="317.60" x2="474.00" y2="275.00" stroke="#2f4365" stroke-width="0.6" stroke-dasharray="1,1"/>
<polygon points="474.00,272.40 475.17,275.00 472.83,275.00" fill="#2f4365"/>
<circle cx="474.3" cy="264.1" r="7.9" fill="#aab3c8" stroke="#6b7893" stroke-width="0.8"/>
<text x="474.30" y="267.00" font-size="8.2" fill="#333" text-anchor="middle" font-weight="normal" >Pt</text>
<text x="453.90" y="250.90" font-size="8.3" fill="#333" text-anchor="start" font-weight="normal" >H<tspan dy="2" font-size="5.8">2</tspan></text>
<path d="M483.8,253.4 Q475,258.5 467.5,253.0" fill="none" stroke="#2f4365" stroke-width="0.8"/>
<polygon points="465.40,251.60 468.20,252.13 466.86,254.05" fill="#2f4365"/>
<line x1="461.00" y1="317.60" x2="470.50" y2="317.60" stroke="#2f4365" stroke-width="0.6" stroke-dasharray="1,1"/>
<polygon points="472.20,317.60 469.80,318.68 469.80,316.52" fill="#2f4365"/>
<circle cx="459.0" cy="317.6" r="1.9" fill="#d7353d"/>
<circle cx="474.0" cy="317.6" r="1.9" fill="#d7353d"/>
<text x="477.10" y="320.90" font-size="8.3" fill="#333" text-anchor="start" font-weight="normal" >e<tspan dy="-3" font-size="5.5">−</tspan></text>
<line x1="448.10" y1="320.00" x2="448.10" y2="330.50" stroke="#2f4365" stroke-width="0.6" stroke-dasharray="1,1"/>
<polygon points="448.10,333.00 447.02,330.60 449.18,330.60" fill="#2f4365"/>
<circle cx="448.1" cy="317.6" r="1.9" fill="#1f7ac2"/>
<text x="437.20" y="320.90" font-size="8.3" fill="#333" text-anchor="start" font-weight="normal" >h<tspan dy="-3" font-size="5.5">+</tspan></text>
<text x="406.90" y="313.00" font-size="8.3" fill="#333" text-anchor="start" font-weight="normal" >Light</text>
<line x1="412.7" y1="301.3" x2="446.0" y2="311.7" stroke="#2f4365" stroke-width="1.5"/>
<polygon points="449.60,312.80 445.03,313.35 446.15,309.75" fill="#2f4365"/>
<ellipse cx="446.0" cy="341.3" rx="19.3" ry="6.9" fill="#5f7094"/>
<text x="446.00" y="344.60" font-size="8.4" fill="#eef0f5" text-anchor="middle" font-weight="normal" >Co-OEC</text>
<path d="M435.4,352.6 Q443,347.5 451.5,351.8" fill="none" stroke="#2f4365" stroke-width="0.8"/>
<polygon points="454.00,353.60 451.20,353.07 452.54,351.15" fill="#2f4365"/>
<text x="454.40" y="356.80" font-size="8.3" fill="#333" text-anchor="start" font-weight="normal" >O<tspan dy="2" font-size="5.8">2</tspan></text>
<text x="446.00" y="371.60" font-size="8.5" fill="#444444" text-anchor="middle" font-weight="normal" >Energy (eV)</text>
<text x="526.80" y="241.60" font-size="12" fill="#111" text-anchor="start" font-weight="bold" stroke="#111" stroke-width="0.45">h</text>
<defs><clipPath id="hL"><rect x="528.1" y="242.5" width="78.79999999999995" height="118.5"/></clipPath>
<clipPath id="hR"><rect x="606.9" y="242.5" width="77.70000000000005" height="118.5"/></clipPath>
<radialGradient id="sph" cx="0.5" cy="0.5" r="0.5"><stop offset="0" stop-color="#6a6d70"/><stop offset="0.55" stop-color="#575a5d"/><stop offset="0.85" stop-color="#3c4044"/><stop offset="0.95" stop-color="#30343a"/><stop offset="1" stop-color="#8c8e90"/></radialGradient>
<radialGradient id="sphd" cx="0.5" cy="0.5" r="0.5"><stop offset="0" stop-color="#151515"/><stop offset="0.85" stop-color="#1a1a1a"/><stop offset="1" stop-color="#606060"/></radialGradient>
<radialGradient id="sphr" cx="0.5" cy="0.5" r="0.5"><stop offset="0" stop-color="#3a3a3a"/><stop offset="0.75" stop-color="#555"/><stop offset="0.9" stop-color="#2a2a2a"/><stop offset="1" stop-color="#777"/></radialGradient>
</defs>
<g clip-path="url(#hL)"><rect x="528.1" y="242.5" width="78.79999999999995" height="118.5" fill="#e4e4e4"/>
<circle cx="537.7" cy="256.3" r="10" fill="url(#sph)"/>
<circle cx="557.6" cy="247.8" r="10.4" fill="url(#sph)"/>
<circle cx="582" cy="239.5" r="9.2" fill="url(#sph)"/>
<circle cx="597.9" cy="253.7" r="9.5" fill="url(#sph)"/>
<circle cx="576.1" cy="262.5" r="10.4" fill="url(#sph)"/>
<circle cx="553.7" cy="270.8" r="10.4" fill="url(#sphr)"/>
<circle cx="532.2" cy="280.1" r="10" fill="url(#sph)"/>
<circle cx="572.3" cy="286.3" r="10.4" fill="url(#sphd)"/>
<circle cx="594.7" cy="277" r="10.6" fill="url(#sph)"/>
<circle cx="550.6" cy="293.5" r="10.4" fill="url(#sph)"/>
<circle cx="529" cy="303" r="9.5" fill="url(#sphd)"/>
<circle cx="569.1" cy="311" r="10.2" fill="url(#sphr)"/>
<circle cx="592.5" cy="302.5" r="10.8" fill="url(#sph)"/>
<circle cx="546" cy="319.3" r="11" fill="url(#sph)"/>
<circle cx="523" cy="329" r="10" fill="url(#sph)"/>
<circle cx="565.1" cy="335.8" r="11" fill="url(#sph)"/>
<circle cx="588" cy="326.3" r="10.8" fill="url(#sph)"/>
<circle cx="608.5" cy="318" r="10" fill="url(#sph)"/>
<circle cx="542" cy="343.6" r="10.8" fill="url(#sph)"/>
<circle cx="584.2" cy="351.4" r="10.5" fill="url(#sphd)"/>
<circle cx="562.5" cy="361.5" r="11.5" fill="url(#sphd)"/>
<circle cx="605.9" cy="341.9" r="10" fill="url(#sphd)"/>
<circle cx="538" cy="367" r="10" fill="url(#sphd)"/>
<circle cx="609" cy="296" r="10" fill="url(#sph)"/>
<circle cx="612" cy="272" r="10" fill="url(#sph)"/>
</g>
<g clip-path="url(#hR)"><rect x="606.9" y="242.5" width="77.70000000000005" height="118.5" fill="#d8d8d8"/>
<circle cx="607.0" cy="362.1" r="2.2" fill="#6c6c6c"/>
<circle cx="604.0" cy="353.1" r="2.2" fill="#6c6c6c"/>
<circle cx="608.1" cy="356.7" r="2.2" fill="#727272"/>
<circle cx="612.2" cy="360.3" r="2.2" fill="#585858"/>
<circle cx="616.4" cy="363.9" r="2.2" fill="#5a5a5a"/>
<circle cx="605.0" cy="347.7" r="2.2" fill="#6c6c6c"/>
<circle cx="609.2" cy="351.3" r="2.2" fill="#4a4a4a"/>
<circle cx="613.3" cy="354.9" r="2.2" fill="#606060"/>
<circle cx="617.5" cy="358.5" r="2.2" fill="#5a5a5a"/>
<circle cx="621.6" cy="362.1" r="2.2" fill="#1c1c1c"/>
<circle cx="606.0" cy="342.3" r="2.2" fill="#727272"/>
<circle cx="610.2" cy="345.9" r="2.2" fill="#3a3a3a"/>
<circle cx="614.4" cy="349.5" r="2.2" fill="#727272"/>
<circle cx="618.5" cy="353.1" r="2.2" fill="#4a4a4a"/>
<circle cx="622.6" cy="356.7" r="2.2" fill="#666666"/>
<circle cx="626.8" cy="360.3" r="2.2" fill="#101010"/>
<circle cx="631.0" cy="363.9" r="2.2" fill="#3a3a3a"/>
<circle cx="607.1" cy="336.9" r="2.2" fill="#585858"/>
<circle cx="611.2" cy="340.5" r="2.2" fill="#585858"/>
<circle cx="615.4" cy="344.1" r="2.2" fill="#101010"/>
<circle cx="619.6" cy="347.7" r="2.2" fill="#606060"/>
<circle cx="623.7" cy="351.3" r="2.2" fill="#585858"/>
<circle cx="627.9" cy="354.9" r="2.2" fill="#585858"/>
<circle cx="632.0" cy="358.6" r="2.2" fill="#4a4a4a"/>
<circle cx="636.2" cy="362.2" r="2.2" fill="#5a5a5a"/>
<circle cx="604.0" cy="327.9" r="2.2" fill="#3a3a3a"/>
<circle cx="608.1" cy="331.5" r="2.2" fill="#606060"/>
<circle cx="612.3" cy="335.1" r="2.2" fill="#6c6c6c"/>
<circle cx="616.5" cy="338.7" r="2.2" fill="#727272"/>
<circle cx="620.6" cy="342.3" r="2.2" fill="#727272"/>
<circle cx="624.8" cy="345.9" r="2.2" fill="#4a4a4a"/>
<circle cx="628.9" cy="349.5" r="2.2" fill="#101010"/>
<circle cx="633.0" cy="353.1" r="2.2" fill="#666666"/>
<circle cx="637.2" cy="356.8" r="2.2" fill="#4a4a4a"/>
<circle cx="641.4" cy="360.4" r="2.2" fill="#3a3a3a"/>
<circle cx="645.5" cy="364.0" r="2.2" fill="#6c6c6c"/>
<circle cx="605.1" cy="322.5" r="2.2" fill="#727272"/>
<circle cx="609.2" cy="326.1" r="2.2" fill="#3a3a3a"/>
<circle cx="613.4" cy="329.7" r="2.2" fill="#6c6c6c"/>
<circle cx="617.5" cy="333.3" r="2.2" fill="#585858"/>
<circle cx="621.7" cy="336.9" r="2.2" fill="#3a3a3a"/>
<circle cx="625.8" cy="340.5" r="2.2" fill="#606060"/>
<circle cx="630.0" cy="344.1" r="2.2" fill="#3a3a3a"/>
<circle cx="634.1" cy="347.8" r="2.2" fill="#101010"/>
<circle cx="638.2" cy="351.4" r="2.2" fill="#6c6c6c"/>
<circle cx="642.4" cy="355.0" r="2.2" fill="#3a3a3a"/>
<circle cx="646.6" cy="358.6" r="2.2" fill="#6c6c6c"/>
<circle cx="650.7" cy="362.2" r="2.2" fill="#3a3a3a"/>
<circle cx="606.1" cy="317.1" r="2.2" fill="#727272"/>
<circle cx="610.3" cy="320.7" r="2.2" fill="#5a5a5a"/>
<circle cx="614.4" cy="324.3" r="2.2" fill="#727272"/>
<circle cx="618.6" cy="327.9" r="2.2" fill="#585858"/>
<circle cx="622.7" cy="331.5" r="2.2" fill="#666666"/>
<circle cx="626.9" cy="335.1" r="2.2" fill="#666666"/>
<circle cx="631.0" cy="338.7" r="2.2" fill="#727272"/>
<circle cx="635.2" cy="342.4" r="2.2" fill="#666666"/>
<circle cx="639.3" cy="346.0" r="2.2" fill="#666666"/>
<circle cx="643.5" cy="349.6" r="2.2" fill="#101010"/>
<circle cx="647.6" cy="353.2" r="2.2" fill="#3a3a3a"/>
<circle cx="651.8" cy="356.8" r="2.2" fill="#606060"/>
<circle cx="655.9" cy="360.4" r="2.2" fill="#585858"/>
<circle cx="607.1" cy="311.7" r="2.2" fill="#101010"/>
<circle cx="611.3" cy="315.3" r="2.2" fill="#4a4a4a"/>
<circle cx="615.5" cy="318.9" r="2.2" fill="#5a5a5a"/>
<circle cx="619.6" cy="322.5" r="2.2" fill="#606060"/>
<circle cx="623.8" cy="326.1" r="2.2" fill="#585858"/>
<circle cx="627.9" cy="329.7" r="2.2" fill="#666666"/>
<circle cx="632.0" cy="333.3" r="2.2" fill="#3a3a3a"/>
<circle cx="636.2" cy="336.9" r="2.2" fill="#4a4a4a"/>
<circle cx="640.4" cy="340.6" r="2.2" fill="#3a3a3a"/>
<circle cx="644.5" cy="344.2" r="2.2" fill="#1c1c1c"/>
<circle cx="648.6" cy="347.8" r="2.2" fill="#585858"/>
<circle cx="652.8" cy="351.4" r="2.2" fill="#4a4a4a"/>
<circle cx="657.0" cy="355.0" r="2.2" fill="#3a3a3a"/>
<circle cx="661.1" cy="358.6" r="2.2" fill="#4a4a4a"/>
<circle cx="665.2" cy="362.2" r="2.2" fill="#6c6c6c"/>
<circle cx="604.1" cy="302.7" r="2.2" fill="#3a3a3a"/>
<circle cx="608.2" cy="306.3" r="2.2" fill="#101010"/>
<circle cx="612.4" cy="309.9" r="2.2" fill="#5a5a5a"/>
<circle cx="616.5" cy="313.5" r="2.2" fill="#1c1c1c"/>
<circle cx="620.7" cy="317.1" r="2.2" fill="#4a4a4a"/>
<circle cx="624.8" cy="320.7" r="2.2" fill="#727272"/>
<circle cx="629.0" cy="324.3" r="2.2" fill="#727272"/>
<circle cx="633.1" cy="327.9" r="2.2" fill="#5a5a5a"/>
<circle cx="637.2" cy="331.6" r="2.2" fill="#727272"/>
<circle cx="641.4" cy="335.2" r="2.2" fill="#606060"/>
<circle cx="645.6" cy="338.8" r="2.2" fill="#5a5a5a"/>
<circle cx="649.7" cy="342.4" r="2.2" fill="#1c1c1c"/>
<circle cx="653.9" cy="346.0" r="2.2" fill="#101010"/>
<circle cx="658.0" cy="349.6" r="2.2" fill="#727272"/>
<circle cx="662.2" cy="353.2" r="2.2" fill="#5a5a5a"/>
<circle cx="666.3" cy="356.8" r="2.2" fill="#585858"/>
<circle cx="670.5" cy="360.4" r="2.2" fill="#4a4a4a"/>
<circle cx="605.1" cy="297.3" r="2.2" fill="#6c6c6c"/>
<circle cx="609.2" cy="300.9" r="2.2" fill="#727272"/>
<circle cx="613.4" cy="304.5" r="2.2" fill="#101010"/>
<circle cx="617.5" cy="308.1" r="2.2" fill="#606060"/>
<circle cx="621.7" cy="311.7" r="2.2" fill="#1c1c1c"/>
<circle cx="625.9" cy="315.3" r="2.2" fill="#101010"/>
<circle cx="630.0" cy="318.9" r="2.2" fill="#727272"/>
<circle cx="634.1" cy="322.5" r="2.2" fill="#727272"/>
<circle cx="638.3" cy="326.1" r="2.2" fill="#101010"/>
<circle cx="642.5" cy="329.8" r="2.2" fill="#1c1c1c"/>
<circle cx="646.6" cy="333.4" r="2.2" fill="#1c1c1c"/>
<circle cx="650.8" cy="337.0" r="2.2" fill="#585858"/>
<circle cx="654.9" cy="340.6" r="2.2" fill="#5a5a5a"/>
<circle cx="659.0" cy="344.2" r="2.2" fill="#3a3a3a"/>
<circle cx="663.2" cy="347.8" r="2.2" fill="#585858"/>
<circle cx="667.4" cy="351.4" r="2.2" fill="#606060"/>
<circle cx="671.5" cy="355.0" r="2.2" fill="#1c1c1c"/>
<circle cx="675.6" cy="358.6" r="2.2" fill="#1c1c1c"/>
<circle cx="679.8" cy="362.2" r="2.2" fill="#3a3a3a"/>
<circle cx="606.1" cy="291.9" r="2.2" fill="#727272"/>
<circle cx="610.3" cy="295.5" r="2.2" fill="#585858"/>
<circle cx="614.5" cy="299.1" r="2.2" fill="#1c1c1c"/>
<circle cx="618.6" cy="302.7" r="2.2" fill="#3a3a3a"/>
<circle cx="622.8" cy="306.3" r="2.2" fill="#6c6c6c"/>
<circle cx="626.9" cy="309.9" r="2.2" fill="#6c6c6c"/>
<circle cx="631.1" cy="313.5" r="2.2" fill="#585858"/>
<circle cx="635.2" cy="317.1" r="2.2" fill="#585858"/>
<circle cx="639.4" cy="320.7" r="2.2" fill="#4a4a4a"/>
<circle cx="643.5" cy="324.4" r="2.2" fill="#4a4a4a"/>
<circle cx="647.7" cy="328.0" r="2.2" fill="#606060"/>
<circle cx="651.8" cy="331.6" r="2.2" fill="#4a4a4a"/>
<circle cx="656.0" cy="335.2" r="2.2" fill="#666666"/>
<circle cx="660.1" cy="338.8" r="2.2" fill="#585858"/>
<circle cx="664.2" cy="342.4" r="2.2" fill="#6c6c6c"/>
<circle cx="668.4" cy="346.0" r="2.2" fill="#727272"/>
<circle cx="672.6" cy="349.6" r="2.2" fill="#101010"/>
<circle cx="676.7" cy="353.2" r="2.2" fill="#1c1c1c"/>
<circle cx="680.9" cy="356.8" r="2.2" fill="#101010"/>
<circle cx="685.0" cy="360.5" r="2.2" fill="#1c1c1c"/>
<circle cx="607.2" cy="286.5" r="2.2" fill="#5a5a5a"/>
<circle cx="611.4" cy="290.1" r="2.2" fill="#5a5a5a"/>
<circle cx="615.5" cy="293.7" r="2.2" fill="#6c6c6c"/>
<circle cx="619.7" cy="297.3" r="2.2" fill="#4a4a4a"/>
<circle cx="623.8" cy="300.9" r="2.2" fill="#727272"/>
<circle cx="628.0" cy="304.5" r="2.2" fill="#585858"/>
<circle cx="632.1" cy="308.1" r="2.2" fill="#727272"/>
<circle cx="636.3" cy="311.7" r="2.2" fill="#606060"/>
<circle cx="640.4" cy="315.4" r="2.2" fill="#1c1c1c"/>
<circle cx="644.6" cy="319.0" r="2.2" fill="#5a5a5a"/>
<circle cx="648.7" cy="322.6" r="2.2" fill="#585858"/>
<circle cx="652.9" cy="326.2" r="2.2" fill="#727272"/>
<circle cx="657.0" cy="329.8" r="2.2" fill="#606060"/>
<circle cx="661.2" cy="333.4" r="2.2" fill="#3a3a3a"/>
<circle cx="665.3" cy="337.0" r="2.2" fill="#727272"/>
<circle cx="669.5" cy="340.6" r="2.2" fill="#6c6c6c"/>
<circle cx="673.6" cy="344.2" r="2.2" fill="#727272"/>
<circle cx="677.8" cy="347.8" r="2.2" fill="#6c6c6c"/>
<circle cx="681.9" cy="351.4" r="2.2" fill="#3a3a3a"/>
<circle cx="686.1" cy="355.1" r="2.2" fill="#606060"/>
<circle cx="604.1" cy="277.5" r="2.2" fill="#727272"/>
<circle cx="608.2" cy="281.1" r="2.2" fill="#101010"/>
<circle cx="612.4" cy="284.7" r="2.2" fill="#606060"/>
<circle cx="616.5" cy="288.3" r="2.2" fill="#5a5a5a"/>
<circle cx="620.7" cy="291.9" r="2.2" fill="#5a5a5a"/>
<circle cx="624.9" cy="295.5" r="2.2" fill="#6c6c6c"/>
<circle cx="629.0" cy="299.1" r="2.2" fill="#5a5a5a"/>
<circle cx="633.1" cy="302.7" r="2.2" fill="#3a3a3a"/>
<circle cx="637.3" cy="306.3" r="2.2" fill="#6c6c6c"/>
<circle cx="641.5" cy="309.9" r="2.2" fill="#1c1c1c"/>
<circle cx="645.6" cy="313.6" r="2.2" fill="#585858"/>
<circle cx="649.8" cy="317.2" r="2.2" fill="#727272"/>
<circle cx="653.9" cy="320.8" r="2.2" fill="#5a5a5a"/>
<circle cx="658.0" cy="324.4" r="2.2" fill="#666666"/>
<circle cx="662.2" cy="328.0" r="2.2" fill="#585858"/>
<circle cx="666.4" cy="331.6" r="2.2" fill="#606060"/>
<circle cx="670.5" cy="335.2" r="2.2" fill="#101010"/>
<circle cx="674.6" cy="338.8" r="2.2" fill="#6c6c6c"/>
<circle cx="678.8" cy="342.4" r="2.2" fill="#101010"/>
<circle cx="683.0" cy="346.0" r="2.2" fill="#5a5a5a"/>
<circle cx="687.1" cy="349.7" r="2.2" fill="#585858"/>
<circle cx="605.2" cy="272.1" r="2.2" fill="#6c6c6c"/>
<circle cx="609.3" cy="275.7" r="2.2" fill="#606060"/>
<circle cx="613.5" cy="279.3" r="2.2" fill="#585858"/>
<circle cx="617.6" cy="282.9" r="2.2" fill="#101010"/>
<circle cx="621.8" cy="286.5" r="2.2" fill="#1c1c1c"/>
<circle cx="625.9" cy="290.1" r="2.2" fill="#6c6c6c"/>
<circle cx="630.1" cy="293.7" r="2.2" fill="#585858"/>
<circle cx="634.2" cy="297.3" r="2.2" fill="#666666"/>
<circle cx="638.4" cy="300.9" r="2.2" fill="#5a5a5a"/>
<circle cx="642.5" cy="304.6" r="2.2" fill="#606060"/>
<circle cx="646.7" cy="308.2" r="2.2" fill="#606060"/>
<circle cx="650.8" cy="311.8" r="2.2" fill="#3a3a3a"/>
<circle cx="655.0" cy="315.4" r="2.2" fill="#666666"/>
<circle cx="659.1" cy="319.0" r="2.2" fill="#101010"/>
<circle cx="663.2" cy="322.6" r="2.2" fill="#727272"/>
<circle cx="667.4" cy="326.2" r="2.2" fill="#101010"/>
<circle cx="671.6" cy="329.8" r="2.2" fill="#4a4a4a"/>
<circle cx="675.7" cy="333.4" r="2.2" fill="#1c1c1c"/>
<circle cx="679.9" cy="337.0" r="2.2" fill="#606060"/>
<circle cx="684.0" cy="340.7" r="2.2" fill="#5a5a5a"/>
<circle cx="606.2" cy="266.7" r="2.2" fill="#5a5a5a"/>
<circle cx="610.4" cy="270.3" r="2.2" fill="#606060"/>
<circle cx="614.5" cy="273.9" r="2.2" fill="#5a5a5a"/>
<circle cx="618.6" cy="277.5" r="2.2" fill="#101010"/>
<circle cx="622.8" cy="281.1" r="2.2" fill="#727272"/>
<circle cx="626.9" cy="284.7" r="2.2" fill="#101010"/>
<circle cx="631.1" cy="288.3" r="2.2" fill="#606060"/>
<circle cx="635.2" cy="291.9" r="2.2" fill="#4a4a4a"/>
<circle cx="639.4" cy="295.5" r="2.2" fill="#606060"/>
<circle cx="643.5" cy="299.1" r="2.2" fill="#1c1c1c"/>
<circle cx="647.7" cy="302.8" r="2.2" fill="#1c1c1c"/>
<circle cx="651.9" cy="306.4" r="2.2" fill="#585858"/>
<circle cx="656.0" cy="310.0" r="2.2" fill="#606060"/>
<circle cx="660.1" cy="313.6" r="2.2" fill="#5a5a5a"/>
<circle cx="664.3" cy="317.2" r="2.2" fill="#5a5a5a"/>
<circle cx="668.5" cy="320.8" r="2.2" fill="#727272"/>
<circle cx="672.6" cy="324.4" r="2.2" fill="#585858"/>
<circle cx="676.8" cy="328.0" r="2.2" fill="#666666"/>
<circle cx="680.9" cy="331.6" r="2.2" fill="#606060"/>
<circle cx="685.0" cy="335.2" r="2.2" fill="#585858"/>
<circle cx="607.2" cy="261.3" r="2.2" fill="#1c1c1c"/>
<circle cx="611.4" cy="264.9" r="2.2" fill="#666666"/>
<circle cx="615.6" cy="268.5" r="2.2" fill="#6c6c6c"/>
<circle cx="619.7" cy="272.1" r="2.2" fill="#4a4a4a"/>
<circle cx="623.9" cy="275.7" r="2.2" fill="#606060"/>
<circle cx="628.0" cy="279.3" r="2.2" fill="#727272"/>
<circle cx="632.1" cy="282.9" r="2.2" fill="#606060"/>
<circle cx="636.3" cy="286.5" r="2.2" fill="#5a5a5a"/>
<circle cx="640.5" cy="290.1" r="2.2" fill="#101010"/>
<circle cx="644.6" cy="293.8" r="2.2" fill="#666666"/>
<circle cx="648.8" cy="297.4" r="2.2" fill="#1c1c1c"/>
<circle cx="652.9" cy="301.0" r="2.2" fill="#6c6c6c"/>
<circle cx="657.1" cy="304.6" r="2.2" fill="#4a4a4a"/>
<circle cx="661.2" cy="308.2" r="2.2" fill="#666666"/>
<circle cx="665.4" cy="311.8" r="2.2" fill="#585858"/>
<circle cx="669.5" cy="315.4" r="2.2" fill="#5a5a5a"/>
<circle cx="673.7" cy="319.0" r="2.2" fill="#101010"/>
<circle cx="677.8" cy="322.6" r="2.2" fill="#727272"/>
<circle cx="682.0" cy="326.2" r="2.2" fill="#727272"/>
<circle cx="686.1" cy="329.8" r="2.2" fill="#6c6c6c"/>
<circle cx="604.2" cy="252.2" r="2.2" fill="#585858"/>
<circle cx="608.3" cy="255.9" r="2.2" fill="#5a5a5a"/>
<circle cx="612.5" cy="259.5" r="2.2" fill="#666666"/>
<circle cx="616.6" cy="263.1" r="2.2" fill="#4a4a4a"/>
<circle cx="620.8" cy="266.7" r="2.2" fill="#4a4a4a"/>
<circle cx="624.9" cy="270.3" r="2.2" fill="#1c1c1c"/>
<circle cx="629.1" cy="273.9" r="2.2" fill="#585858"/>
<circle cx="633.2" cy="277.5" r="2.2" fill="#727272"/>
<circle cx="637.4" cy="281.1" r="2.2" fill="#3a3a3a"/>
<circle cx="641.5" cy="284.7" r="2.2" fill="#4a4a4a"/>
<circle cx="645.7" cy="288.3" r="2.2" fill="#6c6c6c"/>
<circle cx="649.8" cy="292.0" r="2.2" fill="#6c6c6c"/>
<circle cx="654.0" cy="295.6" r="2.2" fill="#3a3a3a"/>
<circle cx="658.1" cy="299.2" r="2.2" fill="#585858"/>
<circle cx="662.3" cy="302.8" r="2.2" fill="#1c1c1c"/>
<circle cx="666.4" cy="306.4" r="2.2" fill="#3a3a3a"/>
<circle cx="670.6" cy="310.0" r="2.2" fill="#585858"/>
<circle cx="674.7" cy="313.6" r="2.2" fill="#727272"/>
<circle cx="678.9" cy="317.2" r="2.2" fill="#1c1c1c"/>
<circle cx="683.0" cy="320.8" r="2.2" fill="#5a5a5a"/>
<circle cx="687.2" cy="324.4" r="2.2" fill="#5a5a5a"/>
<circle cx="605.2" cy="246.8" r="2.2" fill="#585858"/>
<circle cx="609.4" cy="250.5" r="2.2" fill="#585858"/>
<circle cx="613.5" cy="254.1" r="2.2" fill="#5a5a5a"/>
<circle cx="617.6" cy="257.7" r="2.2" fill="#1c1c1c"/>
<circle cx="621.8" cy="261.3" r="2.2" fill="#727272"/>
<circle cx="626.0" cy="264.9" r="2.2" fill="#606060"/>
<circle cx="630.1" cy="268.5" r="2.2" fill="#101010"/>
<circle cx="634.2" cy="272.1" r="2.2" fill="#606060"/>
<circle cx="638.4" cy="275.7" r="2.2" fill="#6c6c6c"/>
<circle cx="642.5" cy="279.3" r="2.2" fill="#606060"/>
<circle cx="646.7" cy="282.9" r="2.2" fill="#606060"/>
<circle cx="650.9" cy="286.6" r="2.2" fill="#4a4a4a"/>
<circle cx="655.0" cy="290.2" r="2.2" fill="#606060"/>
<circle cx="659.1" cy="293.8" r="2.2" fill="#606060"/>
<circle cx="663.3" cy="297.4" r="2.2" fill="#101010"/>
<circle cx="667.5" cy="301.0" r="2.2" fill="#727272"/>
<circle cx="671.6" cy="304.6" r="2.2" fill="#585858"/>
<circle cx="675.8" cy="308.2" r="2.2" fill="#5a5a5a"/>
<circle cx="679.9" cy="311.8" r="2.2" fill="#1c1c1c"/>
<circle cx="684.0" cy="315.4" r="2.2" fill="#1c1c1c"/>
<circle cx="606.2" cy="241.4" r="2.2" fill="#666666"/>
<circle cx="610.4" cy="245.1" r="2.2" fill="#606060"/>
<circle cx="614.6" cy="248.7" r="2.2" fill="#6c6c6c"/>
<circle cx="618.7" cy="252.3" r="2.2" fill="#5a5a5a"/>
<circle cx="622.9" cy="255.9" r="2.2" fill="#3a3a3a"/>
<circle cx="627.0" cy="259.5" r="2.2" fill="#606060"/>
<circle cx="631.2" cy="263.1" r="2.2" fill="#101010"/>
<circle cx="635.3" cy="266.7" r="2.2" fill="#3a3a3a"/>
<circle cx="639.5" cy="270.3" r="2.2" fill="#585858"/>
<circle cx="643.6" cy="273.9" r="2.2" fill="#101010"/>
<circle cx="647.8" cy="277.6" r="2.2" fill="#101010"/>
<circle cx="651.9" cy="281.2" r="2.2" fill="#4a4a4a"/>
<circle cx="656.1" cy="284.8" r="2.2" fill="#5a5a5a"/>
<circle cx="660.2" cy="288.4" r="2.2" fill="#727272"/>
<circle cx="664.4" cy="292.0" r="2.2" fill="#3a3a3a"/>
<circle cx="668.5" cy="295.6" r="2.2" fill="#4a4a4a"/>
<circle cx="672.7" cy="299.2" r="2.2" fill="#4a4a4a"/>
<circle cx="676.8" cy="302.8" r="2.2" fill="#727272"/>
<circle cx="681.0" cy="306.4" r="2.2" fill="#3a3a3a"/>
<circle cx="685.1" cy="310.0" r="2.2" fill="#4a4a4a"/>
<circle cx="611.4" cy="239.7" r="2.2" fill="#666666"/>
<circle cx="615.6" cy="243.3" r="2.2" fill="#1c1c1c"/>
<circle cx="619.8" cy="246.9" r="2.2" fill="#3a3a3a"/>
<circle cx="623.9" cy="250.5" r="2.2" fill="#727272"/>
<circle cx="628.0" cy="254.1" r="2.2" fill="#101010"/>
<circle cx="632.2" cy="257.7" r="2.2" fill="#606060"/>
<circle cx="636.4" cy="261.3" r="2.2" fill="#1c1c1c"/>
<circle cx="640.5" cy="264.9" r="2.2" fill="#666666"/>
<circle cx="644.6" cy="268.5" r="2.2" fill="#3a3a3a"/>
<circle cx="648.8" cy="272.1" r="2.2" fill="#606060"/>
<circle cx="652.9" cy="275.8" r="2.2" fill="#1c1c1c"/>
<circle cx="657.1" cy="279.4" r="2.2" fill="#606060"/>
<circle cx="661.2" cy="283.0" r="2.2" fill="#4a4a4a"/>
<circle cx="665.4" cy="286.6" r="2.2" fill="#101010"/>
<circle cx="669.5" cy="290.2" r="2.2" fill="#727272"/>
<circle cx="673.7" cy="293.8" r="2.2" fill="#4a4a4a"/>
<circle cx="677.9" cy="297.4" r="2.2" fill="#3a3a3a"/>
<circle cx="682.0" cy="301.0" r="2.2" fill="#6c6c6c"/>
<circle cx="686.1" cy="304.6" r="2.2" fill="#4a4a4a"/>
<circle cx="620.8" cy="241.5" r="2.2" fill="#6c6c6c"/>
<circle cx="625.0" cy="245.1" r="2.2" fill="#1c1c1c"/>
<circle cx="629.1" cy="248.7" r="2.2" fill="#666666"/>
<circle cx="633.2" cy="252.3" r="2.2" fill="#3a3a3a"/>
<circle cx="637.4" cy="255.9" r="2.2" fill="#585858"/>
<circle cx="641.6" cy="259.5" r="2.2" fill="#727272"/>
<circle cx="645.7" cy="263.1" r="2.2" fill="#606060"/>
<circle cx="649.9" cy="266.8" r="2.2" fill="#3a3a3a"/>
<circle cx="654.0" cy="270.4" r="2.2" fill="#4a4a4a"/>
<circle cx="658.1" cy="274.0" r="2.2" fill="#727272"/>
<circle cx="662.3" cy="277.6" r="2.2" fill="#5a5a5a"/>
<circle cx="666.5" cy="281.2" r="2.2" fill="#606060"/>
<circle cx="670.6" cy="284.8" r="2.2" fill="#666666"/>
<circle cx="674.8" cy="288.4" r="2.2" fill="#6c6c6c"/>
<circle cx="678.9" cy="292.0" r="2.2" fill="#101010"/>
<circle cx="683.1" cy="295.6" r="2.2" fill="#666666"/>
<circle cx="687.2" cy="299.2" r="2.2" fill="#3a3a3a"/>
<circle cx="626.0" cy="239.7" r="2.2" fill="#727272"/>
<circle cx="630.2" cy="243.3" r="2.2" fill="#3a3a3a"/>
<circle cx="634.3" cy="246.9" r="2.2" fill="#6c6c6c"/>
<circle cx="638.5" cy="250.5" r="2.2" fill="#101010"/>
<circle cx="642.6" cy="254.1" r="2.2" fill="#585858"/>
<circle cx="646.8" cy="257.7" r="2.2" fill="#1c1c1c"/>
<circle cx="650.9" cy="261.4" r="2.2" fill="#5a5a5a"/>
<circle cx="655.1" cy="265.0" r="2.2" fill="#606060"/>
<circle cx="659.2" cy="268.6" r="2.2" fill="#3a3a3a"/>
<circle cx="663.4" cy="272.2" r="2.2" fill="#5a5a5a"/>
<circle cx="667.5" cy="275.8" r="2.2" fill="#101010"/>
<circle cx="671.7" cy="279.4" r="2.2" fill="#585858"/>
<circle cx="675.8" cy="283.0" r="2.2" fill="#6c6c6c"/>
<circle cx="680.0" cy="286.6" r="2.2" fill="#3a3a3a"/>
<circle cx="684.1" cy="290.2" r="2.2" fill="#3a3a3a"/>
<circle cx="635.4" cy="241.5" r="2.2" fill="#6c6c6c"/>
<circle cx="639.5" cy="245.1" r="2.2" fill="#585858"/>
<circle cx="643.6" cy="248.7" r="2.2" fill="#4a4a4a"/>
<circle cx="647.8" cy="252.3" r="2.2" fill="#1c1c1c"/>
<circle cx="652.0" cy="255.9" r="2.2" fill="#1c1c1c"/>
<circle cx="656.1" cy="259.6" r="2.2" fill="#6c6c6c"/>
<circle cx="660.2" cy="263.2" r="2.2" fill="#5a5a5a"/>
<circle cx="664.4" cy="266.8" r="2.2" fill="#1c1c1c"/>
<circle cx="668.5" cy="270.4" r="2.2" fill="#4a4a4a"/>
<circle cx="672.7" cy="274.0" r="2.2" fill="#101010"/>
<circle cx="676.9" cy="277.6" r="2.2" fill="#3a3a3a"/>
<circle cx="681.0" cy="281.2" r="2.2" fill="#585858"/>
<circle cx="685.1" cy="284.8" r="2.2" fill="#5a5a5a"/>
<circle cx="640.6" cy="239.7" r="2.2" fill="#6c6c6c"/>
<circle cx="644.7" cy="243.3" r="2.2" fill="#1c1c1c"/>
<circle cx="648.9" cy="246.9" r="2.2" fill="#666666"/>
<circle cx="653.0" cy="250.5" r="2.2" fill="#5a5a5a"/>
<circle cx="657.2" cy="254.2" r="2.2" fill="#606060"/>
<circle cx="661.3" cy="257.8" r="2.2" fill="#727272"/>
<circle cx="665.5" cy="261.4" r="2.2" fill="#5a5a5a"/>
<circle cx="669.6" cy="265.0" r="2.2" fill="#1c1c1c"/>
<circle cx="673.8" cy="268.6" r="2.2" fill="#666666"/>
<circle cx="677.9" cy="272.2" r="2.2" fill="#1c1c1c"/>
<circle cx="682.1" cy="275.8" r="2.2" fill="#101010"/>
<circle cx="686.2" cy="279.4" r="2.2" fill="#606060"/>
<circle cx="649.9" cy="241.5" r="2.2" fill="#1c1c1c"/>
<circle cx="654.0" cy="245.2" r="2.2" fill="#1c1c1c"/>
<circle cx="658.2" cy="248.8" r="2.2" fill="#727272"/>
<circle cx="662.4" cy="252.4" r="2.2" fill="#4a4a4a"/>
<circle cx="666.5" cy="256.0" r="2.2" fill="#606060"/>
<circle cx="670.6" cy="259.6" r="2.2" fill="#6c6c6c"/>
<circle cx="674.8" cy="263.2" r="2.2" fill="#1c1c1c"/>
<circle cx="678.9" cy="266.8" r="2.2" fill="#585858"/>
<circle cx="683.1" cy="270.4" r="2.2" fill="#101010"/>
<circle cx="687.2" cy="274.0" r="2.2" fill="#4a4a4a"/>
<circle cx="655.1" cy="239.8" r="2.2" fill="#727272"/>
<circle cx="659.2" cy="243.4" r="2.2" fill="#1c1c1c"/>
<circle cx="663.4" cy="247.0" r="2.2" fill="#606060"/>
<circle cx="667.6" cy="250.6" r="2.2" fill="#5a5a5a"/>
<circle cx="671.7" cy="254.2" r="2.2" fill="#4a4a4a"/>
<circle cx="675.9" cy="257.8" r="2.2" fill="#666666"/>
<circle cx="680.0" cy="261.4" r="2.2" fill="#5a5a5a"/>
<circle cx="684.1" cy="265.0" r="2.2" fill="#101010"/>
<circle cx="664.5" cy="241.6" r="2.2" fill="#4a4a4a"/>
<circle cx="668.6" cy="245.2" r="2.2" fill="#3a3a3a"/>
<circle cx="672.8" cy="248.8" r="2.2" fill="#3a3a3a"/>
<circle cx="676.9" cy="252.4" r="2.2" fill="#101010"/>
<circle cx="681.1" cy="256.0" r="2.2" fill="#727272"/>
<circle cx="685.2" cy="259.6" r="2.2" fill="#727272"/>
<circle cx="669.6" cy="239.8" r="2.2" fill="#727272"/>
<circle cx="673.8" cy="243.4" r="2.2" fill="#727272"/>
<circle cx="678.0" cy="247.0" r="2.2" fill="#585858"/>
<circle cx="682.1" cy="250.6" r="2.2" fill="#585858"/>
<circle cx="686.2" cy="254.2" r="2.2" fill="#606060"/>
<circle cx="679.0" cy="241.6" r="2.2" fill="#1c1c1c"/>
<circle cx="683.2" cy="245.2" r="2.2" fill="#606060"/>
<circle cx="687.3" cy="248.8" r="2.2" fill="#606060"/>
<circle cx="684.2" cy="239.8" r="2.2" fill="#5a5a5a"/>
</g>
<rect x="553.4" y="354.0" width="49.6" height="2.2" fill="#ffffff"/>
<rect x="673.5" y="354.0" width="11.0" height="2.5" fill="#ffffff"/>
</svg></body></html>
